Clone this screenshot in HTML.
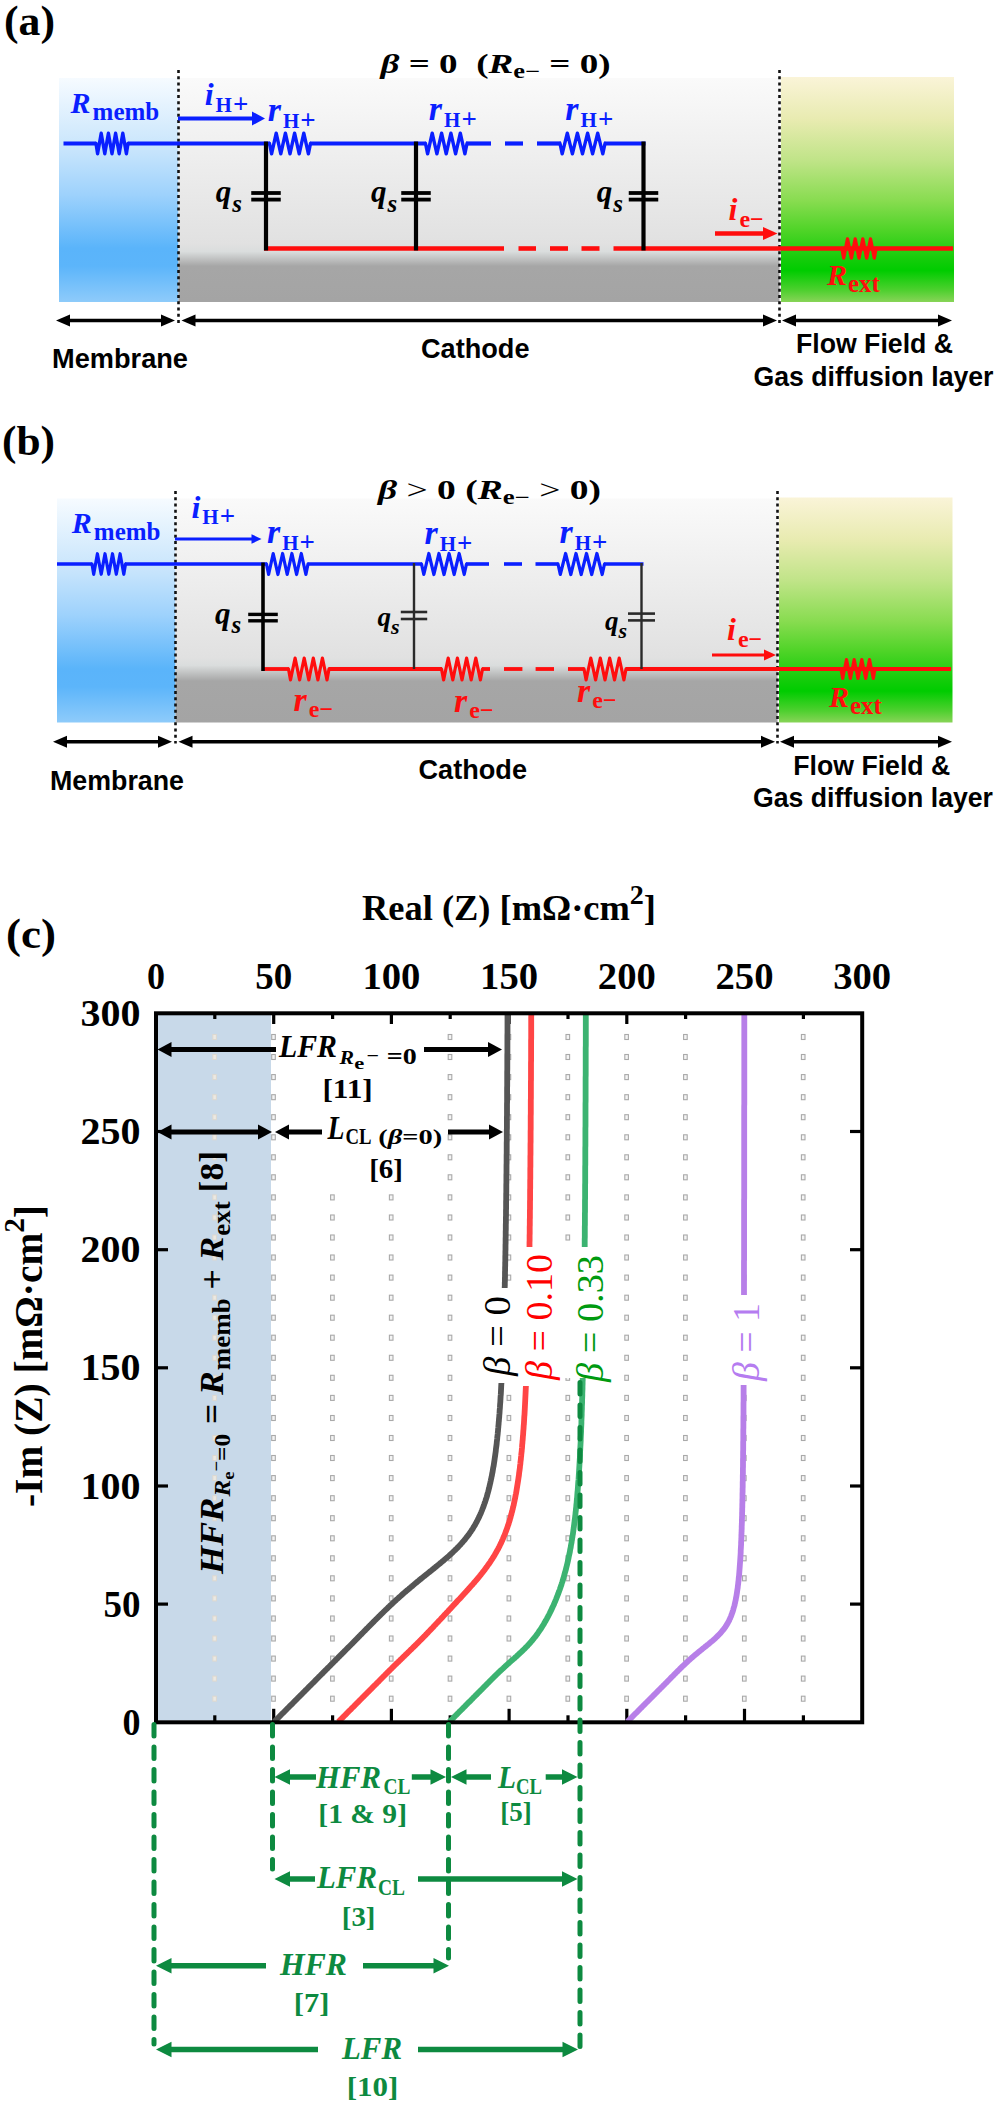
<!DOCTYPE html>
<html><head><meta charset="utf-8"><title>Figure</title><style>html,body{margin:0;padding:0;background:#fff;}svg{display:block;}</style></head><body><svg width="1000" height="2108" viewBox="0 0 1000 2108"><defs>
<linearGradient id="gMem" x1="0" y1="0" x2="0" y2="1">
<stop offset="0" stop-color="#f6fbff"/><stop offset="0.33" stop-color="#c6e4fc"/><stop offset="0.52" stop-color="#9ed2fc"/>
<stop offset="0.76" stop-color="#5ab4fa"/><stop offset="0.84" stop-color="#5cb5fa"/><stop offset="1" stop-color="#8ecbfa"/>
</linearGradient>
<linearGradient id="gCat" x1="0" y1="0" x2="0" y2="1">
<stop offset="0" stop-color="#fafafa"/><stop offset="0.74" stop-color="#e1e1e1"/>
<stop offset="0.775" stop-color="#dadddd"/><stop offset="0.84" stop-color="#a6a6a6"/><stop offset="1" stop-color="#a4a4a4"/>
</linearGradient>
<linearGradient id="gCatB" x1="0" y1="0" x2="0" y2="1">
<stop offset="0" stop-color="#fafafa"/><stop offset="0.71" stop-color="#e1e1e1"/>
<stop offset="0.745" stop-color="#dadddd"/><stop offset="0.815" stop-color="#a6a6a6"/><stop offset="1" stop-color="#a4a4a4"/>
</linearGradient>
<linearGradient id="gFF" x1="0" y1="0" x2="0" y2="1">
<stop offset="0" stop-color="#faf4d8"/><stop offset="0.19" stop-color="#e8ebb0"/>
<stop offset="0.37" stop-color="#c0e488"/><stop offset="0.55" stop-color="#88dc50"/>
<stop offset="0.68" stop-color="#50d428"/><stop offset="0.81" stop-color="#14cc0a"/>
<stop offset="0.86" stop-color="#00cc00"/><stop offset="0.95" stop-color="#50d030"/><stop offset="1" stop-color="#88d458"/>
</linearGradient>
</defs>
<text x="4" y="35" font-family="'Liberation Serif', serif" font-size="42" font-weight="bold" font-style="normal" fill="#000" text-anchor="start" textLength="51" lengthAdjust="spacingAndGlyphs">(a)</text>
<rect x="59" y="78" width="119.5" height="224" fill="url(#gMem)"/>
<rect x="178.5" y="78" width="601.0" height="224" fill="url(#gCat)"/>
<rect x="781.0" y="77" width="173.0" height="225" fill="url(#gFF)"/>
<line x1="178.5" y1="70" x2="178.5" y2="323" stroke="#111" stroke-width="2.6" stroke-dasharray="3 3.25"/>
<line x1="779.5" y1="70" x2="779.5" y2="323" stroke="#111" stroke-width="2.6" stroke-dasharray="3 3.25"/>
<text x="380.5" y="72.8" font-family="'Liberation Serif', serif" font-size="28" font-weight="bold" font-style="normal" fill="#000" text-anchor="start" textLength="230" lengthAdjust="spacingAndGlyphs" xml:space="preserve"><tspan font-style="italic">β</tspan> = 0  (<tspan font-style="italic">R</tspan><tspan dy="5" font-size="20">e−</tspan><tspan dy="-5"> = 0)</tspan></text>
<line x1="63.5" y1="143.5" x2="96" y2="143.5" stroke="#0a1fff" stroke-width="4.2" />
<path d="M96.0,143.5 L97.6,153.8 L101.2,133.2 L104.8,153.8 L108.4,133.2 L112.0,153.8 L115.6,133.2 L119.2,153.8 L122.8,133.2 L126.4,153.8 L128.0,143.5" fill="none" stroke="#0a1fff" stroke-width="3.4" stroke-linejoin="round" stroke-linecap="round"/>
<line x1="128" y1="143.5" x2="270" y2="143.5" stroke="#0a1fff" stroke-width="4.2" />
<path d="M269.5,143.5 L271.6,153.8 L276.2,133.2 L280.8,153.8 L285.4,133.2 L290.0,153.8 L294.6,133.2 L299.2,153.8 L303.8,133.2 L308.4,153.8 L310.5,143.5" fill="none" stroke="#0a1fff" stroke-width="3.4" stroke-linejoin="round" stroke-linecap="round"/>
<line x1="310" y1="143.5" x2="426" y2="143.5" stroke="#0a1fff" stroke-width="4.2" />
<path d="M425.5,143.5 L427.6,153.8 L432.2,133.2 L436.9,153.8 L441.6,133.2 L446.2,153.8 L450.9,133.2 L455.6,153.8 L460.3,133.2 L464.9,153.8 L467.0,143.5" fill="none" stroke="#0a1fff" stroke-width="3.4" stroke-linejoin="round" stroke-linecap="round"/>
<line x1="466" y1="143.5" x2="491" y2="143.5" stroke="#0a1fff" stroke-width="4.2" />
<line x1="505" y1="143.5" x2="523" y2="143.5" stroke="#0a1fff" stroke-width="4.2" />
<line x1="537" y1="143.5" x2="561" y2="143.5" stroke="#0a1fff" stroke-width="4.2" />
<path d="M560.0,143.5 L562.2,153.8 L567.3,133.2 L572.4,153.8 L577.4,133.2 L582.5,153.8 L587.6,133.2 L592.6,153.8 L597.7,133.2 L602.8,153.8 L605.0,143.5" fill="none" stroke="#0a1fff" stroke-width="3.4" stroke-linejoin="round" stroke-linecap="round"/>
<line x1="604" y1="143.5" x2="645.5" y2="143.5" stroke="#0a1fff" stroke-width="4.2" />
<line x1="264" y1="248.5" x2="504" y2="248.5" stroke="#ff0d0d" stroke-width="4.6" />
<line x1="518.5" y1="248.5" x2="536" y2="248.5" stroke="#ff0d0d" stroke-width="4.6" />
<line x1="550" y1="248.5" x2="568" y2="248.5" stroke="#ff0d0d" stroke-width="4.6" />
<line x1="581.5" y1="248.5" x2="599.5" y2="248.5" stroke="#ff0d0d" stroke-width="4.6" />
<line x1="613.5" y1="248.5" x2="953" y2="248.5" stroke="#ff0d0d" stroke-width="4.6" />
<path d="M842.0,248.5 L843.7,258.0 L847.5,239.0 L851.4,258.0 L855.2,239.0 L859.0,258.0 L862.8,239.0 L866.7,258.0 L870.5,239.0 L874.3,258.0 L876.0,248.5" fill="none" stroke="#ff0d0d" stroke-width="3.4" stroke-linejoin="round" stroke-linecap="round"/>
<line x1="266" y1="141.5" x2="266" y2="250.5" stroke="#000" stroke-width="4.2" />
<line x1="251.25" y1="193.0" x2="280.75" y2="193.0" stroke="#000" stroke-width="3.8" /><line x1="251.25" y1="199.60000000000002" x2="280.75" y2="199.60000000000002" stroke="#000" stroke-width="3.8" />
<line x1="416" y1="141.5" x2="416" y2="250.5" stroke="#000" stroke-width="4.2" />
<line x1="401.25" y1="193.0" x2="430.75" y2="193.0" stroke="#000" stroke-width="3.8" /><line x1="401.25" y1="199.60000000000002" x2="430.75" y2="199.60000000000002" stroke="#000" stroke-width="3.8" />
<line x1="643.5" y1="141.5" x2="643.5" y2="250.5" stroke="#000" stroke-width="4.2" />
<line x1="628.75" y1="193.0" x2="658.25" y2="193.0" stroke="#000" stroke-width="3.8" /><line x1="628.75" y1="199.60000000000002" x2="658.25" y2="199.60000000000002" stroke="#000" stroke-width="3.8" />
<line x1="178" y1="118.5" x2="253" y2="118.5" stroke="#0a1fff" stroke-width="4.2" /><path d="M265,118.5 L252,111.5 L252,125.5 Z" fill="#0a1fff"/>
<line x1="715" y1="233.5" x2="764.0" y2="233.5" stroke="#ff0d0d" stroke-width="4.5" /><path d="M777.5,233.5 L763.0,227.0 L763.0,240.0 Z" fill="#ff0d0d"/>
<text x="70.6" y="113.4" font-family="'Liberation Serif', serif" font-size="30" font-weight="bold" font-style="normal" fill="#0a1fff" text-anchor="start" ><tspan font-style="italic">R</tspan><tspan dx="2" dy="6.8" font-size="25" font-style="normal">memb</tspan></text>
<text x="204.7" y="105.2" font-family="'Liberation Serif', serif" font-size="32" font-weight="bold" font-style="normal" fill="#0a1fff" text-anchor="start" ><tspan font-style="italic">i</tspan><tspan dx="2" dy="6.3" font-size="21">H</tspan><tspan dx="1" dy="1" font-size="27">+</tspan></text>
<text x="267.7" y="121.3" font-family="'Liberation Serif', serif" font-size="34" font-weight="bold" font-style="normal" fill="#0a1fff" text-anchor="start" ><tspan font-style="italic">r</tspan><tspan dx="2" dy="6.3" font-size="21">H</tspan><tspan dx="1" dy="1" font-size="27">+</tspan></text>
<text x="428.8" y="120.3" font-family="'Liberation Serif', serif" font-size="34" font-weight="bold" font-style="normal" fill="#0a1fff" text-anchor="start" ><tspan font-style="italic">r</tspan><tspan dx="2" dy="6.3" font-size="21">H</tspan><tspan dx="1" dy="1" font-size="27">+</tspan></text>
<text x="565.3" y="120.3" font-family="'Liberation Serif', serif" font-size="34" font-weight="bold" font-style="normal" fill="#0a1fff" text-anchor="start" ><tspan font-style="italic">r</tspan><tspan dx="2" dy="6.3" font-size="21">H</tspan><tspan dx="1" dy="1" font-size="27">+</tspan></text>
<text x="215.8" y="202" font-family="'Liberation Serif', serif" font-size="31" font-weight="bold" font-style="normal" fill="#000" text-anchor="start" ><tspan font-style="italic">q</tspan><tspan dx="1" dy="9.6" font-size="25" font-style="italic">s</tspan></text>
<text x="371" y="202" font-family="'Liberation Serif', serif" font-size="31" font-weight="bold" font-style="normal" fill="#000" text-anchor="start" ><tspan font-style="italic">q</tspan><tspan dx="1" dy="9.6" font-size="25" font-style="italic">s</tspan></text>
<text x="596.8" y="202" font-family="'Liberation Serif', serif" font-size="31" font-weight="bold" font-style="normal" fill="#000" text-anchor="start" ><tspan font-style="italic">q</tspan><tspan dx="1" dy="9.6" font-size="25" font-style="italic">s</tspan></text>
<text x="728.5" y="220" font-family="'Liberation Serif', serif" font-size="32" font-weight="bold" font-style="normal" fill="#ff0d0d" text-anchor="start" ><tspan font-style="italic">i</tspan><tspan dx="2" dy="7" font-size="24">e</tspan><tspan font-size="24">−</tspan></text>
<text x="827" y="285" font-family="'Liberation Serif', serif" font-size="30" font-weight="bold" font-style="normal" fill="#ff0d0d" text-anchor="start" ><tspan font-style="italic">R</tspan><tspan dx="1" dy="7" font-size="25" font-style="normal">ext</tspan></text>
<line x1="69" y1="320.5" x2="162" y2="320.5" stroke="#000" stroke-width="3.4" /><path d="M56,320.5 L70,314.5 L70,326.5 Z" fill="#000"/><path d="M175,320.5 L161,314.5 L161,326.5 Z" fill="#000"/>
<line x1="194.5" y1="320.5" x2="764" y2="320.5" stroke="#000" stroke-width="3.4" /><path d="M181.5,320.5 L195.5,314.5 L195.5,326.5 Z" fill="#000"/><path d="M777,320.5 L763,314.5 L763,326.5 Z" fill="#000"/>
<line x1="795" y1="320.5" x2="939" y2="320.5" stroke="#000" stroke-width="3.4" /><path d="M782,320.5 L796,314.5 L796,326.5 Z" fill="#000"/><path d="M952,320.5 L938,314.5 L938,326.5 Z" fill="#000"/>
<text x="52" y="367.5" font-family="'Liberation Sans', sans-serif" font-size="27" font-weight="bold" font-style="normal" fill="#000" text-anchor="start" textLength="136" lengthAdjust="spacingAndGlyphs">Membrane</text>
<text x="421" y="357.5" font-family="'Liberation Sans', sans-serif" font-size="27" font-weight="bold" font-style="normal" fill="#000" text-anchor="start" textLength="108.5" lengthAdjust="spacingAndGlyphs">Cathode</text>
<text x="796" y="352.8" font-family="'Liberation Sans', sans-serif" font-size="27" font-weight="bold" font-style="normal" fill="#000" text-anchor="start" textLength="157" lengthAdjust="spacingAndGlyphs">Flow Field &amp;</text>
<text x="753.5" y="386.2" font-family="'Liberation Sans', sans-serif" font-size="27" font-weight="bold" font-style="normal" fill="#000" text-anchor="start" textLength="240" lengthAdjust="spacingAndGlyphs">Gas diffusion layer</text>
<text x="2" y="455" font-family="'Liberation Serif', serif" font-size="42" font-weight="bold" font-style="normal" fill="#000" text-anchor="start" textLength="53" lengthAdjust="spacingAndGlyphs">(b)</text>
<rect x="57" y="498.5" width="118.5" height="224.0" fill="url(#gMem)"/>
<rect x="175.5" y="498.5" width="602.0" height="224.0" fill="url(#gCatB)"/>
<rect x="779.0" y="497.5" width="173.5" height="225.0" fill="url(#gFF)"/>
<line x1="175.5" y1="491" x2="175.5" y2="743.5" stroke="#111" stroke-width="2.6" stroke-dasharray="3 3.25"/>
<line x1="777.5" y1="491" x2="777.5" y2="743.5" stroke="#111" stroke-width="2.6" stroke-dasharray="3 3.25"/>
<text x="378" y="499.3" font-family="'Liberation Serif', serif" font-size="28" font-weight="bold" font-style="normal" fill="#000" text-anchor="start" textLength="223" lengthAdjust="spacingAndGlyphs" xml:space="preserve"><tspan font-style="italic">β</tspan> <tspan font-weight="normal">&gt;</tspan> 0 (<tspan font-style="italic">R</tspan><tspan dy="5" font-size="20">e−</tspan><tspan dy="-5"> </tspan><tspan font-weight="normal">&gt;</tspan> 0)</text>
<line x1="57" y1="564" x2="92" y2="564" stroke="#0a1fff" stroke-width="3.6" />
<path d="M92.0,564.0 L93.7,574.3 L97.4,553.7 L101.2,574.3 L105.0,553.7 L108.8,574.3 L112.5,553.7 L116.3,574.3 L120.1,553.7 L123.8,574.3 L125.5,564.0" fill="none" stroke="#0a1fff" stroke-width="3.2" stroke-linejoin="round" stroke-linecap="round"/>
<line x1="125" y1="564" x2="267" y2="564" stroke="#0a1fff" stroke-width="3.6" />
<path d="M266.5,564.0 L268.6,574.5 L273.2,553.5 L277.9,574.5 L282.6,553.5 L287.2,574.5 L291.9,553.5 L296.6,574.5 L301.3,553.5 L305.9,574.5 L308.0,564.0" fill="none" stroke="#0a1fff" stroke-width="3.2" stroke-linejoin="round" stroke-linecap="round"/>
<line x1="307.5" y1="564" x2="422" y2="564" stroke="#0a1fff" stroke-width="3.6" />
<path d="M421.5,564.0 L423.8,574.5 L428.8,553.5 L433.9,574.5 L438.9,553.5 L444.0,574.5 L449.1,553.5 L454.1,574.5 L459.2,553.5 L464.2,574.5 L466.5,564.0" fill="none" stroke="#0a1fff" stroke-width="3.2" stroke-linejoin="round" stroke-linecap="round"/>
<line x1="466" y1="564" x2="489" y2="564" stroke="#0a1fff" stroke-width="3.6" />
<line x1="504" y1="564" x2="522" y2="564" stroke="#0a1fff" stroke-width="3.6" />
<line x1="535.5" y1="564" x2="558.5" y2="564" stroke="#0a1fff" stroke-width="3.6" />
<path d="M558.0,564.0 L560.3,574.5 L565.6,553.5 L570.8,574.5 L576.0,553.5 L581.2,574.5 L586.5,553.5 L591.7,574.5 L596.9,553.5 L602.2,574.5 L604.5,564.0" fill="none" stroke="#0a1fff" stroke-width="3.2" stroke-linejoin="round" stroke-linecap="round"/>
<line x1="604" y1="564" x2="643.5" y2="564" stroke="#0a1fff" stroke-width="3.6" />
<line x1="262" y1="669" x2="289" y2="669" stroke="#ff0d0d" stroke-width="3.8" />
<path d="M288.5,669.0 L290.5,680.0 L295.1,658.0 L299.6,680.0 L304.2,658.0 L308.8,680.0 L313.3,658.0 L317.9,680.0 L322.4,658.0 L327.0,680.0 L329.0,669.0" fill="none" stroke="#ff0d0d" stroke-width="3.2" stroke-linejoin="round" stroke-linecap="round"/>
<line x1="328.5" y1="669" x2="442" y2="669" stroke="#ff0d0d" stroke-width="3.8" />
<path d="M441.5,669.0 L443.6,680.0 L448.2,658.0 L452.8,680.0 L457.4,658.0 L462.0,680.0 L466.6,658.0 L471.2,680.0 L475.8,658.0 L480.4,680.0 L482.5,669.0" fill="none" stroke="#ff0d0d" stroke-width="3.2" stroke-linejoin="round" stroke-linecap="round"/>
<line x1="482" y1="669" x2="490" y2="669" stroke="#ff0d0d" stroke-width="3.8" />
<line x1="504" y1="669" x2="522.4" y2="669" stroke="#ff0d0d" stroke-width="3.8" />
<line x1="535.6" y1="669" x2="554" y2="669" stroke="#ff0d0d" stroke-width="3.8" />
<line x1="568" y1="669" x2="584.5" y2="669" stroke="#ff0d0d" stroke-width="3.8" />
<path d="M584.0,669.0 L586.1,680.0 L590.8,658.0 L595.6,680.0 L600.3,658.0 L605.0,680.0 L609.7,658.0 L614.5,680.0 L619.2,658.0 L623.9,680.0 L626.0,669.0" fill="none" stroke="#ff0d0d" stroke-width="3.2" stroke-linejoin="round" stroke-linecap="round"/>
<line x1="625.5" y1="669" x2="951" y2="669" stroke="#ff0d0d" stroke-width="3.8" />
<path d="M841.0,669.0 L842.7,678.5 L846.5,659.5 L850.4,678.5 L854.2,659.5 L858.0,678.5 L861.8,659.5 L865.7,678.5 L869.5,659.5 L873.3,678.5 L875.0,669.0" fill="none" stroke="#ff0d0d" stroke-width="3.2" stroke-linejoin="round" stroke-linecap="round"/>
<line x1="263" y1="562.5" x2="263" y2="671" stroke="#000" stroke-width="3.6" />
<line x1="248.2" y1="614.4" x2="277.8" y2="614.4" stroke="#000" stroke-width="3.4" /><line x1="248.2" y1="620.8000000000001" x2="277.8" y2="620.8000000000001" stroke="#000" stroke-width="3.4" />
<line x1="414" y1="563" x2="414" y2="669" stroke="#2a2a2a" stroke-width="2.4" />
<line x1="400.8" y1="612.0" x2="427.2" y2="612.0" stroke="#2a2a2a" stroke-width="2.6" /><line x1="400.8" y1="619.0" x2="427.2" y2="619.0" stroke="#2a2a2a" stroke-width="2.6" />
<line x1="641.5" y1="563" x2="641.5" y2="669" stroke="#2a2a2a" stroke-width="2.4" />
<line x1="628.0" y1="613.6" x2="655.0" y2="613.6" stroke="#2a2a2a" stroke-width="2.6" /><line x1="628.0" y1="620.4" x2="655.0" y2="620.4" stroke="#2a2a2a" stroke-width="2.6" />
<line x1="175" y1="539" x2="252.5" y2="539" stroke="#0a1fff" stroke-width="2.8" /><path d="M261.5,539 L251.5,534.2 L251.5,543.8 Z" fill="#0a1fff"/>
<line x1="712" y1="655" x2="765" y2="655" stroke="#ff0d0d" stroke-width="3.2" /><path d="M776,655 L764,649.5 L764,660.5 Z" fill="#ff0d0d"/>
<text x="71.8" y="533.4" font-family="'Liberation Serif', serif" font-size="30" font-weight="bold" font-style="normal" fill="#0a1fff" text-anchor="start" ><tspan font-style="italic">R</tspan><tspan dx="2" dy="7" font-size="25" font-style="normal">memb</tspan></text>
<text x="191.4" y="518" font-family="'Liberation Serif', serif" font-size="32" font-weight="bold" font-style="normal" fill="#0a1fff" text-anchor="start" ><tspan font-style="italic">i</tspan><tspan dx="2" dy="6.2" font-size="21">H</tspan><tspan dx="1" dy="1" font-size="27">+</tspan></text>
<text x="267" y="543.3" font-family="'Liberation Serif', serif" font-size="34" font-weight="bold" font-style="normal" fill="#0a1fff" text-anchor="start" ><tspan font-style="italic">r</tspan><tspan dx="2" dy="7" font-size="21">H</tspan><tspan dx="1" dy="1" font-size="27">+</tspan></text>
<text x="424.5" y="543.5" font-family="'Liberation Serif', serif" font-size="34" font-weight="bold" font-style="normal" fill="#0a1fff" text-anchor="start" ><tspan font-style="italic">r</tspan><tspan dx="2" dy="7" font-size="21">H</tspan><tspan dx="1" dy="1" font-size="27">+</tspan></text>
<text x="559.5" y="542.5" font-family="'Liberation Serif', serif" font-size="34" font-weight="bold" font-style="normal" fill="#0a1fff" text-anchor="start" ><tspan font-style="italic">r</tspan><tspan dx="2" dy="7" font-size="21">H</tspan><tspan dx="1" dy="1" font-size="27">+</tspan></text>
<text x="215" y="623.5" font-family="'Liberation Serif', serif" font-size="31" font-weight="bold" font-style="normal" fill="#000" text-anchor="start" ><tspan font-style="italic">q</tspan><tspan dx="1" dy="9" font-size="25" font-style="italic">s</tspan></text>
<text x="377.4" y="626.4" font-family="'Liberation Serif', serif" font-size="27" font-weight="bold" font-style="normal" fill="#000" text-anchor="start" ><tspan font-style="italic">q</tspan><tspan dx="0" dy="8" font-size="22" font-style="italic">s</tspan></text>
<text x="605" y="630" font-family="'Liberation Serif', serif" font-size="27" font-weight="bold" font-style="normal" fill="#000" text-anchor="start" ><tspan font-style="italic">q</tspan><tspan dx="0" dy="8" font-size="22" font-style="italic">s</tspan></text>
<text x="727" y="640" font-family="'Liberation Serif', serif" font-size="32" font-weight="bold" font-style="normal" fill="#ff0d0d" text-anchor="start" ><tspan font-style="italic">i</tspan><tspan dx="2" dy="7" font-size="24">e</tspan><tspan font-size="24">−</tspan></text>
<text x="829" y="707" font-family="'Liberation Serif', serif" font-size="30" font-weight="bold" font-style="normal" fill="#ff0d0d" text-anchor="start" ><tspan font-style="italic">R</tspan><tspan dx="1" dy="7" font-size="25" font-style="normal">ext</tspan></text>
<text x="293.6" y="711.2" font-family="'Liberation Serif', serif" font-size="34" font-weight="bold" font-style="normal" fill="#ff0d0d" text-anchor="start" ><tspan font-style="italic">r</tspan><tspan dx="2" dy="6" font-size="24">e</tspan><tspan font-size="24">−</tspan></text>
<text x="454" y="711.5" font-family="'Liberation Serif', serif" font-size="34" font-weight="bold" font-style="normal" fill="#ff0d0d" text-anchor="start" ><tspan font-style="italic">r</tspan><tspan dx="2" dy="6" font-size="24">e</tspan><tspan font-size="24">−</tspan></text>
<text x="577" y="702" font-family="'Liberation Serif', serif" font-size="34" font-weight="bold" font-style="normal" fill="#ff0d0d" text-anchor="start" ><tspan font-style="italic">r</tspan><tspan dx="2" dy="6" font-size="24">e</tspan><tspan font-size="24">−</tspan></text>
<line x1="66" y1="741.8" x2="159" y2="741.8" stroke="#000" stroke-width="3.4" /><path d="M53,741.8 L67,735.8 L67,747.8 Z" fill="#000"/><path d="M172,741.8 L158,735.8 L158,747.8 Z" fill="#000"/>
<line x1="191.5" y1="741.8" x2="762" y2="741.8" stroke="#000" stroke-width="3.4" /><path d="M178.5,741.8 L192.5,735.8 L192.5,747.8 Z" fill="#000"/><path d="M775,741.8 L761,735.8 L761,747.8 Z" fill="#000"/>
<line x1="793" y1="741.8" x2="939" y2="741.8" stroke="#000" stroke-width="3.4" /><path d="M780,741.8 L794,735.8 L794,747.8 Z" fill="#000"/><path d="M952,741.8 L938,735.8 L938,747.8 Z" fill="#000"/>
<text x="50" y="790" font-family="'Liberation Sans', sans-serif" font-size="27" font-weight="bold" font-style="normal" fill="#000" text-anchor="start" textLength="134" lengthAdjust="spacingAndGlyphs">Membrane</text>
<text x="418.5" y="779" font-family="'Liberation Sans', sans-serif" font-size="27" font-weight="bold" font-style="normal" fill="#000" text-anchor="start" textLength="108.5" lengthAdjust="spacingAndGlyphs">Cathode</text>
<text x="793.3" y="774.6" font-family="'Liberation Sans', sans-serif" font-size="27" font-weight="bold" font-style="normal" fill="#000" text-anchor="start" textLength="157" lengthAdjust="spacingAndGlyphs">Flow Field &amp;</text>
<text x="753" y="807" font-family="'Liberation Sans', sans-serif" font-size="27" font-weight="bold" font-style="normal" fill="#000" text-anchor="start" textLength="240" lengthAdjust="spacingAndGlyphs">Gas diffusion layer</text>
<text x="6" y="948" font-family="'Liberation Serif', serif" font-size="42" font-weight="bold" font-style="normal" fill="#000" text-anchor="start" textLength="50" lengthAdjust="spacingAndGlyphs">(c)</text>
<text x="362" y="920" font-family="'Liberation Serif', serif" font-size="35" font-weight="bold" font-style="normal" fill="#000" text-anchor="start" textLength="294" lengthAdjust="spacingAndGlyphs">Real (Z) [mΩ·cm<tspan dy="-16" font-size="27">2</tspan><tspan dy="16">]</tspan></text>
<text x="156.0" y="989.3" font-family="'Liberation Serif', serif" font-size="37" font-weight="bold" font-style="normal" fill="#000" text-anchor="middle" textLength="18" lengthAdjust="spacingAndGlyphs">0</text>
<text x="273.7" y="989.3" font-family="'Liberation Serif', serif" font-size="37" font-weight="bold" font-style="normal" fill="#000" text-anchor="middle" textLength="37" lengthAdjust="spacingAndGlyphs">50</text>
<text x="391.4" y="989.3" font-family="'Liberation Serif', serif" font-size="37" font-weight="bold" font-style="normal" fill="#000" text-anchor="middle" textLength="58" lengthAdjust="spacingAndGlyphs">100</text>
<text x="509.1" y="989.3" font-family="'Liberation Serif', serif" font-size="37" font-weight="bold" font-style="normal" fill="#000" text-anchor="middle" textLength="58" lengthAdjust="spacingAndGlyphs">150</text>
<text x="626.8" y="989.3" font-family="'Liberation Serif', serif" font-size="37" font-weight="bold" font-style="normal" fill="#000" text-anchor="middle" textLength="58" lengthAdjust="spacingAndGlyphs">200</text>
<text x="744.5" y="989.3" font-family="'Liberation Serif', serif" font-size="37" font-weight="bold" font-style="normal" fill="#000" text-anchor="middle" textLength="58" lengthAdjust="spacingAndGlyphs">250</text>
<text x="862.2" y="989.3" font-family="'Liberation Serif', serif" font-size="37" font-weight="bold" font-style="normal" fill="#000" text-anchor="middle" textLength="58" lengthAdjust="spacingAndGlyphs">300</text>
<text x="140.5" y="1734.8" font-family="'Liberation Serif', serif" font-size="37" font-weight="bold" font-style="normal" fill="#000" text-anchor="end" textLength="18" lengthAdjust="spacingAndGlyphs">0</text>
<text x="140.5" y="1616.6499999999999" font-family="'Liberation Serif', serif" font-size="37" font-weight="bold" font-style="normal" fill="#000" text-anchor="end" textLength="37" lengthAdjust="spacingAndGlyphs">50</text>
<text x="140.5" y="1498.5" font-family="'Liberation Serif', serif" font-size="37" font-weight="bold" font-style="normal" fill="#000" text-anchor="end" textLength="60" lengthAdjust="spacingAndGlyphs">100</text>
<text x="140.5" y="1380.35" font-family="'Liberation Serif', serif" font-size="37" font-weight="bold" font-style="normal" fill="#000" text-anchor="end" textLength="60" lengthAdjust="spacingAndGlyphs">150</text>
<text x="140.5" y="1262.1999999999998" font-family="'Liberation Serif', serif" font-size="37" font-weight="bold" font-style="normal" fill="#000" text-anchor="end" textLength="60" lengthAdjust="spacingAndGlyphs">200</text>
<text x="140.5" y="1144.05" font-family="'Liberation Serif', serif" font-size="37" font-weight="bold" font-style="normal" fill="#000" text-anchor="end" textLength="60" lengthAdjust="spacingAndGlyphs">250</text>
<text x="140.5" y="1025.9" font-family="'Liberation Serif', serif" font-size="37" font-weight="bold" font-style="normal" fill="#000" text-anchor="end" textLength="60" lengthAdjust="spacingAndGlyphs">300</text>
<text transform="translate(41.8,1507) rotate(-90)" x="0" y="0" font-family="'Liberation Serif', serif" font-size="39" font-weight="bold" fill="#000" textLength="302" lengthAdjust="spacingAndGlyphs">-Im (Z) [mΩ·cm<tspan dy="-18" font-size="29">2</tspan><tspan dy="18">]</tspan></text>
<rect x="158" y="1015" width="113" height="705.5" fill="#c8d9e9"/>
<g fill="#f4f4f4" stroke="#a9a9a9" stroke-width="1.1"><rect x="271.7" y="1034.5" width="3.6" height="5" /><rect x="271.7" y="1054.5" width="3.6" height="5" /><rect x="271.7" y="1074.6" width="3.6" height="5" /><rect x="271.7" y="1094.7" width="3.6" height="5" /><rect x="271.7" y="1114.7" width="3.6" height="5" /><rect x="271.7" y="1134.8" width="3.6" height="5" /><rect x="271.7" y="1154.8" width="3.6" height="5" /><rect x="271.7" y="1174.8" width="3.6" height="5" /><rect x="271.7" y="1194.9" width="3.6" height="5" /><rect x="271.7" y="1215.0" width="3.6" height="5" /><rect x="271.7" y="1235.0" width="3.6" height="5" /><rect x="271.7" y="1255.0" width="3.6" height="5" /><rect x="271.7" y="1275.1" width="3.6" height="5" /><rect x="271.7" y="1295.2" width="3.6" height="5" /><rect x="271.7" y="1315.2" width="3.6" height="5" /><rect x="271.7" y="1335.2" width="3.6" height="5" /><rect x="271.7" y="1355.3" width="3.6" height="5" /><rect x="271.7" y="1375.3" width="3.6" height="5" /><rect x="271.7" y="1395.4" width="3.6" height="5" /><rect x="271.7" y="1415.5" width="3.6" height="5" /><rect x="271.7" y="1435.5" width="3.6" height="5" /><rect x="271.7" y="1455.5" width="3.6" height="5" /><rect x="271.7" y="1475.6" width="3.6" height="5" /><rect x="271.7" y="1495.7" width="3.6" height="5" /><rect x="271.7" y="1515.7" width="3.6" height="5" /><rect x="271.7" y="1535.8" width="3.6" height="5" /><rect x="271.7" y="1555.8" width="3.6" height="5" /><rect x="271.7" y="1575.8" width="3.6" height="5" /><rect x="271.7" y="1595.9" width="3.6" height="5" /><rect x="271.7" y="1616.0" width="3.6" height="5" /><rect x="271.7" y="1636.0" width="3.6" height="5" /><rect x="271.7" y="1656.1" width="3.6" height="5" /><rect x="271.7" y="1676.1" width="3.6" height="5" /><rect x="271.7" y="1696.2" width="3.6" height="5" /><rect x="330.6" y="1034.5" width="3.6" height="5" /><rect x="330.6" y="1054.5" width="3.6" height="5" /><rect x="330.6" y="1074.6" width="3.6" height="5" /><rect x="330.6" y="1094.7" width="3.6" height="5" /><rect x="330.6" y="1114.7" width="3.6" height="5" /><rect x="330.6" y="1134.8" width="3.6" height="5" /><rect x="330.6" y="1154.8" width="3.6" height="5" /><rect x="330.6" y="1174.8" width="3.6" height="5" /><rect x="330.6" y="1194.9" width="3.6" height="5" /><rect x="330.6" y="1215.0" width="3.6" height="5" /><rect x="330.6" y="1235.0" width="3.6" height="5" /><rect x="330.6" y="1255.0" width="3.6" height="5" /><rect x="330.6" y="1275.1" width="3.6" height="5" /><rect x="330.6" y="1295.2" width="3.6" height="5" /><rect x="330.6" y="1315.2" width="3.6" height="5" /><rect x="330.6" y="1335.2" width="3.6" height="5" /><rect x="330.6" y="1355.3" width="3.6" height="5" /><rect x="330.6" y="1375.3" width="3.6" height="5" /><rect x="330.6" y="1395.4" width="3.6" height="5" /><rect x="330.6" y="1415.5" width="3.6" height="5" /><rect x="330.6" y="1435.5" width="3.6" height="5" /><rect x="330.6" y="1455.5" width="3.6" height="5" /><rect x="330.6" y="1475.6" width="3.6" height="5" /><rect x="330.6" y="1495.7" width="3.6" height="5" /><rect x="330.6" y="1515.7" width="3.6" height="5" /><rect x="330.6" y="1535.8" width="3.6" height="5" /><rect x="330.6" y="1555.8" width="3.6" height="5" /><rect x="330.6" y="1575.8" width="3.6" height="5" /><rect x="330.6" y="1595.9" width="3.6" height="5" /><rect x="330.6" y="1616.0" width="3.6" height="5" /><rect x="330.6" y="1636.0" width="3.6" height="5" /><rect x="330.6" y="1656.1" width="3.6" height="5" /><rect x="330.6" y="1676.1" width="3.6" height="5" /><rect x="330.6" y="1696.2" width="3.6" height="5" /><rect x="389.4" y="1034.5" width="3.6" height="5" /><rect x="389.4" y="1054.5" width="3.6" height="5" /><rect x="389.4" y="1074.6" width="3.6" height="5" /><rect x="389.4" y="1094.7" width="3.6" height="5" /><rect x="389.4" y="1114.7" width="3.6" height="5" /><rect x="389.4" y="1134.8" width="3.6" height="5" /><rect x="389.4" y="1154.8" width="3.6" height="5" /><rect x="389.4" y="1174.8" width="3.6" height="5" /><rect x="389.4" y="1194.9" width="3.6" height="5" /><rect x="389.4" y="1215.0" width="3.6" height="5" /><rect x="389.4" y="1235.0" width="3.6" height="5" /><rect x="389.4" y="1255.0" width="3.6" height="5" /><rect x="389.4" y="1275.1" width="3.6" height="5" /><rect x="389.4" y="1295.2" width="3.6" height="5" /><rect x="389.4" y="1315.2" width="3.6" height="5" /><rect x="389.4" y="1335.2" width="3.6" height="5" /><rect x="389.4" y="1355.3" width="3.6" height="5" /><rect x="389.4" y="1375.3" width="3.6" height="5" /><rect x="389.4" y="1395.4" width="3.6" height="5" /><rect x="389.4" y="1415.5" width="3.6" height="5" /><rect x="389.4" y="1435.5" width="3.6" height="5" /><rect x="389.4" y="1455.5" width="3.6" height="5" /><rect x="389.4" y="1475.6" width="3.6" height="5" /><rect x="389.4" y="1495.7" width="3.6" height="5" /><rect x="389.4" y="1515.7" width="3.6" height="5" /><rect x="389.4" y="1535.8" width="3.6" height="5" /><rect x="389.4" y="1555.8" width="3.6" height="5" /><rect x="389.4" y="1575.8" width="3.6" height="5" /><rect x="389.4" y="1595.9" width="3.6" height="5" /><rect x="389.4" y="1616.0" width="3.6" height="5" /><rect x="389.4" y="1636.0" width="3.6" height="5" /><rect x="389.4" y="1656.1" width="3.6" height="5" /><rect x="389.4" y="1676.1" width="3.6" height="5" /><rect x="389.4" y="1696.2" width="3.6" height="5" /><rect x="448.2" y="1034.5" width="3.6" height="5" /><rect x="448.2" y="1054.5" width="3.6" height="5" /><rect x="448.2" y="1074.6" width="3.6" height="5" /><rect x="448.2" y="1094.7" width="3.6" height="5" /><rect x="448.2" y="1114.7" width="3.6" height="5" /><rect x="448.2" y="1134.8" width="3.6" height="5" /><rect x="448.2" y="1154.8" width="3.6" height="5" /><rect x="448.2" y="1174.8" width="3.6" height="5" /><rect x="448.2" y="1194.9" width="3.6" height="5" /><rect x="448.2" y="1215.0" width="3.6" height="5" /><rect x="448.2" y="1235.0" width="3.6" height="5" /><rect x="448.2" y="1255.0" width="3.6" height="5" /><rect x="448.2" y="1275.1" width="3.6" height="5" /><rect x="448.2" y="1295.2" width="3.6" height="5" /><rect x="448.2" y="1315.2" width="3.6" height="5" /><rect x="448.2" y="1335.2" width="3.6" height="5" /><rect x="448.2" y="1355.3" width="3.6" height="5" /><rect x="448.2" y="1375.3" width="3.6" height="5" /><rect x="448.2" y="1395.4" width="3.6" height="5" /><rect x="448.2" y="1415.5" width="3.6" height="5" /><rect x="448.2" y="1435.5" width="3.6" height="5" /><rect x="448.2" y="1455.5" width="3.6" height="5" /><rect x="448.2" y="1475.6" width="3.6" height="5" /><rect x="448.2" y="1495.7" width="3.6" height="5" /><rect x="448.2" y="1515.7" width="3.6" height="5" /><rect x="448.2" y="1535.8" width="3.6" height="5" /><rect x="448.2" y="1555.8" width="3.6" height="5" /><rect x="448.2" y="1575.8" width="3.6" height="5" /><rect x="448.2" y="1595.9" width="3.6" height="5" /><rect x="448.2" y="1616.0" width="3.6" height="5" /><rect x="448.2" y="1636.0" width="3.6" height="5" /><rect x="448.2" y="1656.1" width="3.6" height="5" /><rect x="448.2" y="1676.1" width="3.6" height="5" /><rect x="448.2" y="1696.2" width="3.6" height="5" /><rect x="507.1" y="1034.5" width="3.6" height="5" /><rect x="507.1" y="1054.5" width="3.6" height="5" /><rect x="507.1" y="1074.6" width="3.6" height="5" /><rect x="507.1" y="1094.7" width="3.6" height="5" /><rect x="507.1" y="1114.7" width="3.6" height="5" /><rect x="507.1" y="1134.8" width="3.6" height="5" /><rect x="507.1" y="1154.8" width="3.6" height="5" /><rect x="507.1" y="1174.8" width="3.6" height="5" /><rect x="507.1" y="1194.9" width="3.6" height="5" /><rect x="507.1" y="1215.0" width="3.6" height="5" /><rect x="507.1" y="1235.0" width="3.6" height="5" /><rect x="507.1" y="1255.0" width="3.6" height="5" /><rect x="507.1" y="1275.1" width="3.6" height="5" /><rect x="507.1" y="1295.2" width="3.6" height="5" /><rect x="507.1" y="1315.2" width="3.6" height="5" /><rect x="507.1" y="1335.2" width="3.6" height="5" /><rect x="507.1" y="1355.3" width="3.6" height="5" /><rect x="507.1" y="1375.3" width="3.6" height="5" /><rect x="507.1" y="1395.4" width="3.6" height="5" /><rect x="507.1" y="1415.5" width="3.6" height="5" /><rect x="507.1" y="1435.5" width="3.6" height="5" /><rect x="507.1" y="1455.5" width="3.6" height="5" /><rect x="507.1" y="1475.6" width="3.6" height="5" /><rect x="507.1" y="1495.7" width="3.6" height="5" /><rect x="507.1" y="1515.7" width="3.6" height="5" /><rect x="507.1" y="1535.8" width="3.6" height="5" /><rect x="507.1" y="1555.8" width="3.6" height="5" /><rect x="507.1" y="1575.8" width="3.6" height="5" /><rect x="507.1" y="1595.9" width="3.6" height="5" /><rect x="507.1" y="1616.0" width="3.6" height="5" /><rect x="507.1" y="1636.0" width="3.6" height="5" /><rect x="507.1" y="1656.1" width="3.6" height="5" /><rect x="507.1" y="1676.1" width="3.6" height="5" /><rect x="507.1" y="1696.2" width="3.6" height="5" /><rect x="566.0" y="1034.5" width="3.6" height="5" /><rect x="566.0" y="1054.5" width="3.6" height="5" /><rect x="566.0" y="1074.6" width="3.6" height="5" /><rect x="566.0" y="1094.7" width="3.6" height="5" /><rect x="566.0" y="1114.7" width="3.6" height="5" /><rect x="566.0" y="1134.8" width="3.6" height="5" /><rect x="566.0" y="1154.8" width="3.6" height="5" /><rect x="566.0" y="1174.8" width="3.6" height="5" /><rect x="566.0" y="1194.9" width="3.6" height="5" /><rect x="566.0" y="1215.0" width="3.6" height="5" /><rect x="566.0" y="1235.0" width="3.6" height="5" /><rect x="566.0" y="1255.0" width="3.6" height="5" /><rect x="566.0" y="1275.1" width="3.6" height="5" /><rect x="566.0" y="1295.2" width="3.6" height="5" /><rect x="566.0" y="1315.2" width="3.6" height="5" /><rect x="566.0" y="1335.2" width="3.6" height="5" /><rect x="566.0" y="1355.3" width="3.6" height="5" /><rect x="566.0" y="1375.3" width="3.6" height="5" /><rect x="566.0" y="1395.4" width="3.6" height="5" /><rect x="566.0" y="1415.5" width="3.6" height="5" /><rect x="566.0" y="1435.5" width="3.6" height="5" /><rect x="566.0" y="1455.5" width="3.6" height="5" /><rect x="566.0" y="1475.6" width="3.6" height="5" /><rect x="566.0" y="1495.7" width="3.6" height="5" /><rect x="566.0" y="1515.7" width="3.6" height="5" /><rect x="566.0" y="1535.8" width="3.6" height="5" /><rect x="566.0" y="1555.8" width="3.6" height="5" /><rect x="566.0" y="1575.8" width="3.6" height="5" /><rect x="566.0" y="1595.9" width="3.6" height="5" /><rect x="566.0" y="1616.0" width="3.6" height="5" /><rect x="566.0" y="1636.0" width="3.6" height="5" /><rect x="566.0" y="1656.1" width="3.6" height="5" /><rect x="566.0" y="1676.1" width="3.6" height="5" /><rect x="566.0" y="1696.2" width="3.6" height="5" /><rect x="624.8" y="1034.5" width="3.6" height="5" /><rect x="624.8" y="1054.5" width="3.6" height="5" /><rect x="624.8" y="1074.6" width="3.6" height="5" /><rect x="624.8" y="1094.7" width="3.6" height="5" /><rect x="624.8" y="1114.7" width="3.6" height="5" /><rect x="624.8" y="1134.8" width="3.6" height="5" /><rect x="624.8" y="1154.8" width="3.6" height="5" /><rect x="624.8" y="1174.8" width="3.6" height="5" /><rect x="624.8" y="1194.9" width="3.6" height="5" /><rect x="624.8" y="1215.0" width="3.6" height="5" /><rect x="624.8" y="1235.0" width="3.6" height="5" /><rect x="624.8" y="1255.0" width="3.6" height="5" /><rect x="624.8" y="1275.1" width="3.6" height="5" /><rect x="624.8" y="1295.2" width="3.6" height="5" /><rect x="624.8" y="1315.2" width="3.6" height="5" /><rect x="624.8" y="1335.2" width="3.6" height="5" /><rect x="624.8" y="1355.3" width="3.6" height="5" /><rect x="624.8" y="1375.3" width="3.6" height="5" /><rect x="624.8" y="1395.4" width="3.6" height="5" /><rect x="624.8" y="1415.5" width="3.6" height="5" /><rect x="624.8" y="1435.5" width="3.6" height="5" /><rect x="624.8" y="1455.5" width="3.6" height="5" /><rect x="624.8" y="1475.6" width="3.6" height="5" /><rect x="624.8" y="1495.7" width="3.6" height="5" /><rect x="624.8" y="1515.7" width="3.6" height="5" /><rect x="624.8" y="1535.8" width="3.6" height="5" /><rect x="624.8" y="1555.8" width="3.6" height="5" /><rect x="624.8" y="1575.8" width="3.6" height="5" /><rect x="624.8" y="1595.9" width="3.6" height="5" /><rect x="624.8" y="1616.0" width="3.6" height="5" /><rect x="624.8" y="1636.0" width="3.6" height="5" /><rect x="624.8" y="1656.1" width="3.6" height="5" /><rect x="624.8" y="1676.1" width="3.6" height="5" /><rect x="624.8" y="1696.2" width="3.6" height="5" /><rect x="683.6" y="1034.5" width="3.6" height="5" /><rect x="683.6" y="1054.5" width="3.6" height="5" /><rect x="683.6" y="1074.6" width="3.6" height="5" /><rect x="683.6" y="1094.7" width="3.6" height="5" /><rect x="683.6" y="1114.7" width="3.6" height="5" /><rect x="683.6" y="1134.8" width="3.6" height="5" /><rect x="683.6" y="1154.8" width="3.6" height="5" /><rect x="683.6" y="1174.8" width="3.6" height="5" /><rect x="683.6" y="1194.9" width="3.6" height="5" /><rect x="683.6" y="1215.0" width="3.6" height="5" /><rect x="683.6" y="1235.0" width="3.6" height="5" /><rect x="683.6" y="1255.0" width="3.6" height="5" /><rect x="683.6" y="1275.1" width="3.6" height="5" /><rect x="683.6" y="1295.2" width="3.6" height="5" /><rect x="683.6" y="1315.2" width="3.6" height="5" /><rect x="683.6" y="1335.2" width="3.6" height="5" /><rect x="683.6" y="1355.3" width="3.6" height="5" /><rect x="683.6" y="1375.3" width="3.6" height="5" /><rect x="683.6" y="1395.4" width="3.6" height="5" /><rect x="683.6" y="1415.5" width="3.6" height="5" /><rect x="683.6" y="1435.5" width="3.6" height="5" /><rect x="683.6" y="1455.5" width="3.6" height="5" /><rect x="683.6" y="1475.6" width="3.6" height="5" /><rect x="683.6" y="1495.7" width="3.6" height="5" /><rect x="683.6" y="1515.7" width="3.6" height="5" /><rect x="683.6" y="1535.8" width="3.6" height="5" /><rect x="683.6" y="1555.8" width="3.6" height="5" /><rect x="683.6" y="1575.8" width="3.6" height="5" /><rect x="683.6" y="1595.9" width="3.6" height="5" /><rect x="683.6" y="1616.0" width="3.6" height="5" /><rect x="683.6" y="1636.0" width="3.6" height="5" /><rect x="683.6" y="1656.1" width="3.6" height="5" /><rect x="683.6" y="1676.1" width="3.6" height="5" /><rect x="683.6" y="1696.2" width="3.6" height="5" /><rect x="742.5" y="1034.5" width="3.6" height="5" /><rect x="742.5" y="1054.5" width="3.6" height="5" /><rect x="742.5" y="1074.6" width="3.6" height="5" /><rect x="742.5" y="1094.7" width="3.6" height="5" /><rect x="742.5" y="1114.7" width="3.6" height="5" /><rect x="742.5" y="1134.8" width="3.6" height="5" /><rect x="742.5" y="1154.8" width="3.6" height="5" /><rect x="742.5" y="1174.8" width="3.6" height="5" /><rect x="742.5" y="1194.9" width="3.6" height="5" /><rect x="742.5" y="1215.0" width="3.6" height="5" /><rect x="742.5" y="1235.0" width="3.6" height="5" /><rect x="742.5" y="1255.0" width="3.6" height="5" /><rect x="742.5" y="1275.1" width="3.6" height="5" /><rect x="742.5" y="1295.2" width="3.6" height="5" /><rect x="742.5" y="1315.2" width="3.6" height="5" /><rect x="742.5" y="1335.2" width="3.6" height="5" /><rect x="742.5" y="1355.3" width="3.6" height="5" /><rect x="742.5" y="1375.3" width="3.6" height="5" /><rect x="742.5" y="1395.4" width="3.6" height="5" /><rect x="742.5" y="1415.5" width="3.6" height="5" /><rect x="742.5" y="1435.5" width="3.6" height="5" /><rect x="742.5" y="1455.5" width="3.6" height="5" /><rect x="742.5" y="1475.6" width="3.6" height="5" /><rect x="742.5" y="1495.7" width="3.6" height="5" /><rect x="742.5" y="1515.7" width="3.6" height="5" /><rect x="742.5" y="1535.8" width="3.6" height="5" /><rect x="742.5" y="1555.8" width="3.6" height="5" /><rect x="742.5" y="1575.8" width="3.6" height="5" /><rect x="742.5" y="1595.9" width="3.6" height="5" /><rect x="742.5" y="1616.0" width="3.6" height="5" /><rect x="742.5" y="1636.0" width="3.6" height="5" /><rect x="742.5" y="1656.1" width="3.6" height="5" /><rect x="742.5" y="1676.1" width="3.6" height="5" /><rect x="742.5" y="1696.2" width="3.6" height="5" /><rect x="801.4" y="1034.5" width="3.6" height="5" /><rect x="801.4" y="1054.5" width="3.6" height="5" /><rect x="801.4" y="1074.6" width="3.6" height="5" /><rect x="801.4" y="1094.7" width="3.6" height="5" /><rect x="801.4" y="1114.7" width="3.6" height="5" /><rect x="801.4" y="1134.8" width="3.6" height="5" /><rect x="801.4" y="1154.8" width="3.6" height="5" /><rect x="801.4" y="1174.8" width="3.6" height="5" /><rect x="801.4" y="1194.9" width="3.6" height="5" /><rect x="801.4" y="1215.0" width="3.6" height="5" /><rect x="801.4" y="1235.0" width="3.6" height="5" /><rect x="801.4" y="1255.0" width="3.6" height="5" /><rect x="801.4" y="1275.1" width="3.6" height="5" /><rect x="801.4" y="1295.2" width="3.6" height="5" /><rect x="801.4" y="1315.2" width="3.6" height="5" /><rect x="801.4" y="1335.2" width="3.6" height="5" /><rect x="801.4" y="1355.3" width="3.6" height="5" /><rect x="801.4" y="1375.3" width="3.6" height="5" /><rect x="801.4" y="1395.4" width="3.6" height="5" /><rect x="801.4" y="1415.5" width="3.6" height="5" /><rect x="801.4" y="1435.5" width="3.6" height="5" /><rect x="801.4" y="1455.5" width="3.6" height="5" /><rect x="801.4" y="1475.6" width="3.6" height="5" /><rect x="801.4" y="1495.7" width="3.6" height="5" /><rect x="801.4" y="1515.7" width="3.6" height="5" /><rect x="801.4" y="1535.8" width="3.6" height="5" /><rect x="801.4" y="1555.8" width="3.6" height="5" /><rect x="801.4" y="1575.8" width="3.6" height="5" /><rect x="801.4" y="1595.9" width="3.6" height="5" /><rect x="801.4" y="1616.0" width="3.6" height="5" /><rect x="801.4" y="1636.0" width="3.6" height="5" /><rect x="801.4" y="1656.1" width="3.6" height="5" /><rect x="801.4" y="1676.1" width="3.6" height="5" /><rect x="801.4" y="1696.2" width="3.6" height="5" /></g>
<g fill="#ece9e2" stroke="#dcd8d0" stroke-width="1"><rect x="212.8" y="1034.5" width="3.6" height="5" /><rect x="212.8" y="1054.5" width="3.6" height="5" /><rect x="212.8" y="1074.6" width="3.6" height="5" /><rect x="212.8" y="1094.7" width="3.6" height="5" /><rect x="212.8" y="1114.7" width="3.6" height="5" /><rect x="212.8" y="1134.8" width="3.6" height="5" /><rect x="212.8" y="1154.8" width="3.6" height="5" /><rect x="212.8" y="1174.8" width="3.6" height="5" /><rect x="212.8" y="1194.9" width="3.6" height="5" /><rect x="212.8" y="1215.0" width="3.6" height="5" /><rect x="212.8" y="1235.0" width="3.6" height="5" /><rect x="212.8" y="1255.0" width="3.6" height="5" /><rect x="212.8" y="1275.1" width="3.6" height="5" /><rect x="212.8" y="1295.2" width="3.6" height="5" /><rect x="212.8" y="1315.2" width="3.6" height="5" /><rect x="212.8" y="1335.2" width="3.6" height="5" /><rect x="212.8" y="1355.3" width="3.6" height="5" /><rect x="212.8" y="1375.3" width="3.6" height="5" /><rect x="212.8" y="1395.4" width="3.6" height="5" /><rect x="212.8" y="1415.5" width="3.6" height="5" /><rect x="212.8" y="1435.5" width="3.6" height="5" /><rect x="212.8" y="1455.5" width="3.6" height="5" /><rect x="212.8" y="1475.6" width="3.6" height="5" /><rect x="212.8" y="1495.7" width="3.6" height="5" /><rect x="212.8" y="1515.7" width="3.6" height="5" /><rect x="212.8" y="1535.8" width="3.6" height="5" /><rect x="212.8" y="1555.8" width="3.6" height="5" /><rect x="212.8" y="1575.8" width="3.6" height="5" /><rect x="212.8" y="1595.9" width="3.6" height="5" /><rect x="212.8" y="1616.0" width="3.6" height="5" /><rect x="212.8" y="1636.0" width="3.6" height="5" /><rect x="212.8" y="1656.1" width="3.6" height="5" /><rect x="212.8" y="1676.1" width="3.6" height="5" /><rect x="212.8" y="1696.2" width="3.6" height="5" /></g>
<line x1="214.8" y1="1013" x2="214.8" y2="1019" stroke="#000" stroke-width="3.2" />
<line x1="214.8" y1="1715.3" x2="214.8" y2="1722.3" stroke="#000" stroke-width="3.2" />
<line x1="273.7" y1="1013" x2="273.7" y2="1024" stroke="#000" stroke-width="3.2" />
<line x1="273.7" y1="1708.8" x2="273.7" y2="1722.3" stroke="#000" stroke-width="3.2" />
<line x1="332.6" y1="1013" x2="332.6" y2="1019" stroke="#000" stroke-width="3.2" />
<line x1="332.6" y1="1715.3" x2="332.6" y2="1722.3" stroke="#000" stroke-width="3.2" />
<line x1="391.4" y1="1013" x2="391.4" y2="1024" stroke="#000" stroke-width="3.2" />
<line x1="391.4" y1="1708.8" x2="391.4" y2="1722.3" stroke="#000" stroke-width="3.2" />
<line x1="450.2" y1="1013" x2="450.2" y2="1019" stroke="#000" stroke-width="3.2" />
<line x1="450.2" y1="1715.3" x2="450.2" y2="1722.3" stroke="#000" stroke-width="3.2" />
<line x1="509.1" y1="1013" x2="509.1" y2="1024" stroke="#000" stroke-width="3.2" />
<line x1="509.1" y1="1708.8" x2="509.1" y2="1722.3" stroke="#000" stroke-width="3.2" />
<line x1="568.0" y1="1013" x2="568.0" y2="1019" stroke="#000" stroke-width="3.2" />
<line x1="568.0" y1="1715.3" x2="568.0" y2="1722.3" stroke="#000" stroke-width="3.2" />
<line x1="626.8" y1="1013" x2="626.8" y2="1024" stroke="#000" stroke-width="3.2" />
<line x1="626.8" y1="1708.8" x2="626.8" y2="1722.3" stroke="#000" stroke-width="3.2" />
<line x1="685.6" y1="1013" x2="685.6" y2="1019" stroke="#000" stroke-width="3.2" />
<line x1="685.6" y1="1715.3" x2="685.6" y2="1722.3" stroke="#000" stroke-width="3.2" />
<line x1="744.5" y1="1013" x2="744.5" y2="1024" stroke="#000" stroke-width="3.2" />
<line x1="744.5" y1="1708.8" x2="744.5" y2="1722.3" stroke="#000" stroke-width="3.2" />
<line x1="803.4" y1="1013" x2="803.4" y2="1019" stroke="#000" stroke-width="3.2" />
<line x1="803.4" y1="1715.3" x2="803.4" y2="1722.3" stroke="#000" stroke-width="3.2" />
<line x1="156" y1="1604.1" x2="168" y2="1604.1" stroke="#000" stroke-width="3.2" />
<line x1="850" y1="1604.1" x2="862" y2="1604.1" stroke="#000" stroke-width="3.2" />
<line x1="156" y1="1486.0" x2="168" y2="1486.0" stroke="#000" stroke-width="3.2" />
<line x1="850" y1="1486.0" x2="862" y2="1486.0" stroke="#000" stroke-width="3.2" />
<line x1="156" y1="1367.8" x2="168" y2="1367.8" stroke="#000" stroke-width="3.2" />
<line x1="850" y1="1367.8" x2="862" y2="1367.8" stroke="#000" stroke-width="3.2" />
<line x1="156" y1="1249.7" x2="168" y2="1249.7" stroke="#000" stroke-width="3.2" />
<line x1="850" y1="1249.7" x2="862" y2="1249.7" stroke="#000" stroke-width="3.2" />
<line x1="156" y1="1131.5" x2="168" y2="1131.5" stroke="#000" stroke-width="3.2" />
<line x1="850" y1="1131.5" x2="862" y2="1131.5" stroke="#000" stroke-width="3.2" />
<clipPath id="plotclip"><rect x="156" y="1013" width="706" height="709"/></clipPath>
<g clip-path="url(#plotclip)">
<path d="M274.2,1721.8 L274.8,1721.2 L275.4,1720.6 L276.0,1720.0 L276.6,1719.4 L277.2,1718.8 L277.8,1718.2 L278.4,1717.6 L279.0,1717.0 L279.6,1716.4 L280.2,1715.8 L280.8,1715.1 L281.4,1714.5 L282.0,1713.9 L282.7,1713.3 L283.3,1712.7 L283.9,1712.1 L284.5,1711.5 L285.1,1710.9 L285.7,1710.3 L286.3,1709.7 L286.9,1709.0 L287.5,1708.4 L288.2,1707.8 L288.8,1707.2 L289.4,1706.5 L290.0,1705.9 L290.6,1705.3 L291.3,1704.7 L291.9,1704.1 L292.5,1703.5 L293.1,1702.8 L293.7,1702.2 L294.3,1701.6 L294.9,1701.0 L295.5,1700.4 L296.2,1699.7 L296.8,1699.1 L297.4,1698.5 L298.0,1697.9 L298.6,1697.3 L299.3,1696.6 L299.9,1696.0 L300.5,1695.4 L301.2,1694.7 L301.8,1694.1 L302.4,1693.5 L303.0,1692.9 L303.6,1692.3 L304.3,1691.6 L304.9,1691.0 L305.5,1690.4 L306.1,1689.7 L306.8,1689.1 L307.4,1688.5 L308.1,1687.8 L308.7,1687.1 L309.3,1686.5 L310.0,1685.9 L310.6,1685.3 L311.2,1684.6 L311.9,1684.0 L312.6,1683.3 L313.2,1682.7 L313.8,1682.1 L314.4,1681.5 L315.0,1680.8 L315.7,1680.2 L316.3,1679.5 L317.0,1678.9 L317.6,1678.2 L318.3,1677.5 L318.9,1676.9 L319.5,1676.3 L320.1,1675.7 L320.8,1675.0 L321.4,1674.4 L322.1,1673.8 L322.7,1673.1 L323.4,1672.4 L324.0,1671.8 L324.7,1671.1 L325.4,1670.4 L326.0,1669.8 L326.6,1669.2 L327.2,1668.6 L327.9,1667.9 L328.5,1667.3 L329.1,1666.7 L329.8,1666.0 L330.4,1665.4 L331.1,1664.7 L331.7,1664.0 L332.4,1663.4 L333.1,1662.7 L333.8,1662.0 L334.5,1661.3 L335.2,1660.6 L335.9,1659.9 L336.5,1659.3 L337.1,1658.7 L337.7,1658.1 L338.3,1657.4 L338.9,1656.8 L339.6,1656.2 L340.2,1655.5 L340.8,1654.9 L341.5,1654.3 L342.1,1653.6 L342.8,1652.9 L343.5,1652.3 L344.1,1651.6 L344.8,1650.9 L345.5,1650.2 L346.2,1649.5 L346.9,1648.8 L347.6,1648.1 L348.3,1647.4 L349.0,1646.7 L349.7,1646.0 L350.5,1645.2 L351.2,1644.5 L352.0,1643.7 L352.6,1643.1 L353.2,1642.5 L353.8,1641.9 L354.4,1641.3 L355.0,1640.6 L355.6,1640.0 L356.3,1639.4 L356.9,1638.7 L357.5,1638.1 L358.2,1637.4 L358.8,1636.8 L359.5,1636.1 L360.1,1635.4 L360.8,1634.8 L361.5,1634.1 L362.1,1633.4 L362.8,1632.7 L363.5,1632.0 L364.2,1631.3 L364.9,1630.6 L365.6,1629.9 L366.3,1629.1 L367.0,1628.4 L367.8,1627.7 L368.5,1626.9 L369.2,1626.2 L370.0,1625.4 L370.7,1624.7 L371.5,1623.9 L372.2,1623.2 L373.0,1622.4 L373.8,1621.6 L374.6,1620.8 L375.4,1620.0 L376.0,1619.4 L376.6,1618.8 L377.2,1618.2 L377.8,1617.6 L378.4,1617.0 L379.0,1616.4 L379.7,1615.7 L380.3,1615.1 L380.9,1614.5 L381.6,1613.9 L382.2,1613.2 L382.9,1612.6 L383.5,1612.0 L384.2,1611.3 L384.8,1610.7 L385.5,1610.0 L386.2,1609.4 L386.9,1608.7 L387.6,1608.1 L388.2,1607.4 L388.9,1606.7 L389.6,1606.1 L390.3,1605.4 L391.1,1604.8 L391.8,1604.1 L392.5,1603.4 L393.2,1602.7 L393.9,1602.1 L394.7,1601.4 L395.4,1600.7 L396.2,1600.0 L396.9,1599.3 L397.7,1598.7 L398.4,1598.0 L399.2,1597.3 L400.0,1596.6 L400.8,1595.9 L401.5,1595.2 L402.3,1594.5 L403.1,1593.8 L403.9,1593.1 L404.7,1592.4 L405.5,1591.7 L406.3,1591.0 L407.1,1590.4 L407.9,1589.7 L408.8,1589.0 L409.6,1588.3 L410.4,1587.6 L411.2,1586.9 L412.1,1586.2 L412.9,1585.5 L413.8,1584.8 L414.6,1584.0 L415.5,1583.3 L416.3,1582.6 L417.2,1581.9 L418.0,1581.2 L418.9,1580.5 L419.7,1579.8 L420.6,1579.1 L421.5,1578.4 L422.3,1577.7 L423.2,1577.0 L424.1,1576.3 L425.0,1575.6 L425.8,1574.9 L426.7,1574.2 L427.6,1573.5 L428.5,1572.8 L429.3,1572.1 L430.2,1571.4 L431.1,1570.7 L432.0,1570.0 L432.8,1569.3 L433.7,1568.6 L434.6,1567.9 L435.5,1567.1 L436.4,1566.4 L437.2,1565.7 L438.1,1565.0 L439.0,1564.3 L439.8,1563.6 L440.7,1562.9 L441.6,1562.1 L442.4,1561.4 L443.3,1560.7 L444.1,1560.0 L445.0,1559.3 L445.8,1558.5 L446.7,1557.8 L447.5,1557.1 L448.4,1556.3 L449.2,1555.6 L450.0,1554.8 L450.9,1554.1 L451.7,1553.3 L452.5,1552.6 L453.3,1551.8 L454.1,1551.0 L454.9,1550.2 L455.7,1549.5 L456.5,1548.7 L457.3,1547.9 L458.1,1547.1 L458.8,1546.3 L459.6,1545.5 L460.4,1544.7 L461.1,1543.8 L461.9,1543.0 L462.6,1542.2 L463.3,1541.3 L464.1,1540.5 L464.8,1539.6 L465.5,1538.7 L466.2,1537.8 L466.9,1536.9 L467.6,1536.0 L468.3,1535.1 L469.0,1534.2 L469.6,1533.2 L470.3,1532.3 L471.0,1531.3 L471.6,1530.3 L472.3,1529.4 L472.9,1528.4 L473.5,1527.3 L474.1,1526.3 L474.8,1525.3 L475.4,1524.2 L476.0,1523.1 L476.6,1522.1 L477.1,1521.0 L477.7,1519.8 L478.3,1518.7 L478.8,1517.6 L479.4,1516.4 L479.9,1515.2 L480.5,1514.0 L481.0,1512.8 L481.5,1511.5 L482.0,1510.3 L482.5,1509.0 L483.0,1507.7 L483.4,1506.8 L483.7,1505.9 L484.0,1505.1 L484.3,1504.2 L484.6,1503.2 L485.0,1502.3 L485.3,1501.4 L485.6,1500.4 L485.9,1499.5 L486.2,1498.5 L486.5,1497.6 L486.8,1496.6 L487.1,1495.6 L487.3,1494.6 L487.6,1493.6 L487.9,1492.6 L488.2,1491.5 L488.5,1490.5 L488.7,1489.4 L489.0,1488.4 L489.3,1487.3 L489.5,1486.2 L489.8,1485.1 L490.0,1484.0 L490.3,1482.9 L490.5,1481.8 L490.8,1480.6 L491.0,1479.5 L491.3,1478.3 L491.5,1477.1 L491.8,1475.9 L492.0,1474.7 L492.2,1473.5 L492.5,1472.3 L492.7,1471.0 L492.9,1469.8 L493.1,1468.5 L493.3,1467.3 L493.6,1466.0 L493.8,1464.7 L494.0,1463.3 L494.2,1462.0 L494.4,1460.7 L494.6,1459.3 L494.8,1457.9 L495.0,1456.5 L495.2,1455.2 L495.4,1453.7 L495.6,1452.3 L495.8,1450.9 L495.9,1449.4 L496.1,1447.9 L496.3,1446.5 L496.5,1445.0 L496.7,1443.4 L496.8,1441.9 L497.0,1440.4 L497.2,1438.8 L497.3,1437.2 L497.5,1435.6 L497.7,1434.0 L497.8,1432.4 L498.0,1430.8 L498.1,1429.1 L498.3,1427.5 L498.4,1425.8 L498.6,1424.1 L498.7,1422.3 L498.9,1420.6 L499.0,1418.9 L499.2,1417.1 L499.3,1415.3 L499.5,1413.5 L499.6,1411.7 L499.7,1409.9 L499.9,1408.0 L500.0,1406.1 L500.1,1404.2 L500.3,1402.3 L500.4,1400.4 L500.5,1398.5 L500.6,1396.5 L500.8,1394.5 L500.9,1392.5 L501.0,1390.5 L501.1,1388.5 L501.2,1386.4 L501.3,1384.3 L501.5,1382.3 L501.6,1380.1 L501.7,1378.0 L501.8,1375.9 L501.9,1373.7 L502.0,1371.5 L502.1,1369.3 L502.2,1367.1 L502.3,1364.8 L502.4,1362.5 L502.5,1360.2 L502.5,1359.1 L502.6,1357.9 L502.6,1356.8 L502.7,1355.6 L502.7,1354.4 L502.8,1353.2 L502.8,1352.1 L502.9,1350.9 L502.9,1349.7 L503.0,1348.5 L503.0,1347.3 L503.1,1346.1 L503.1,1344.8 L503.1,1343.6 L503.2,1342.4 L503.2,1341.2 L503.3,1339.9 L503.3,1338.7 L503.4,1337.4 L503.4,1336.2 L503.4,1334.9 L503.5,1333.6 L503.5,1332.4 L503.6,1331.1 L503.6,1329.8 L503.6,1328.5 L503.7,1327.2 L503.7,1325.9 L503.8,1324.6 L503.8,1323.3 L503.8,1322.0 L503.9,1320.7 L503.9,1319.3 L504.0,1318.0 L504.0,1316.6 L504.0,1315.3 L504.1,1313.9 L504.1,1312.6 L504.1,1311.2 L504.2,1309.9 L504.2,1308.5 L504.3,1307.1 L504.3,1305.7 L504.3,1304.3 L504.4,1302.9 L504.4,1301.5 L504.4,1300.1 L504.5,1298.7 L504.5,1297.2 L504.5,1295.8 L504.6,1294.4 L504.6,1292.9 L504.6,1291.5 L504.7,1290.0 L504.7,1288.6 L504.7,1287.1 L504.8,1285.6 L504.8,1284.1 L504.8,1282.7 L504.9,1281.2 L504.9,1279.7 L504.9,1278.1 L505.0,1276.6 L505.0,1275.1 L505.0,1273.6 L505.0,1272.1 L505.1,1270.5 L505.1,1269.0 L505.1,1267.4 L505.2,1265.9 L505.2,1264.3 L505.2,1262.7 L505.3,1261.1 L505.3,1259.5 L505.3,1258.0 L505.3,1256.4 L505.4,1254.7 L505.4,1253.1 L505.4,1251.5 L505.5,1249.9 L505.5,1248.3 L505.5,1246.6 L505.5,1245.0 L505.6,1243.3 L505.6,1241.6 L505.6,1240.0 L505.6,1238.3 L505.7,1236.6 L505.7,1234.9 L505.7,1233.2 L505.7,1231.5 L505.8,1229.8 L505.8,1228.1 L505.8,1226.4 L505.8,1224.6 L505.9,1222.9 L505.9,1221.1 L505.9,1219.4 L505.9,1217.6 L506.0,1215.9 L506.0,1214.1 L506.0,1212.3 L506.0,1210.5 L506.1,1208.7 L506.1,1206.9 L506.1,1205.1 L506.1,1203.3 L506.1,1201.4 L506.2,1199.6 L506.2,1197.7 L506.2,1195.9 L506.2,1194.0 L506.3,1192.2 L506.3,1190.3 L506.3,1188.4 L506.3,1186.5 L506.3,1184.6 L506.4,1182.7 L506.4,1180.8 L506.4,1178.9 L506.4,1176.9 L506.4,1175.0 L506.5,1173.1 L506.5,1171.1 L506.5,1169.1 L506.5,1167.2 L506.5,1165.2 L506.6,1163.2 L506.6,1161.2 L506.6,1159.2 L506.6,1157.2 L506.6,1155.2 L506.7,1153.1 L506.7,1151.1 L506.7,1149.0 L506.7,1147.0 L506.7,1144.9 L506.7,1142.9 L506.8,1140.8 L506.8,1138.7 L506.8,1136.6 L506.8,1134.5 L506.8,1132.4 L506.8,1130.3 L506.9,1128.1 L506.9,1126.0 L506.9,1123.8 L506.9,1121.7 L506.9,1119.5 L506.9,1117.3 L507.0,1115.1 L507.0,1113.0 L507.0,1110.8 L507.0,1108.5 L507.0,1106.3 L507.0,1104.1 L507.1,1101.9 L507.1,1099.6 L507.1,1097.4 L507.1,1095.1 L507.1,1092.8 L507.1,1090.5 L507.1,1088.2 L507.2,1085.9 L507.2,1083.6 L507.2,1081.3 L507.2,1079.0 L507.2,1076.6 L507.2,1074.3 L507.2,1071.9 L507.3,1069.5 L507.3,1067.2 L507.3,1064.8 L507.3,1062.4 L507.3,1060.0 L507.3,1057.6 L507.3,1055.1 L507.4,1052.7 L507.4,1050.2 L507.4,1047.8 L507.4,1045.3 L507.4,1042.8 L507.4,1040.4 L507.4,1037.9 L507.4,1035.4 L507.5,1032.8 L507.5,1030.3 L507.5,1027.8 L507.5,1025.2 L507.5,1022.7 L507.5,1020.1 L507.5,1017.5 L507.5,1014.9 L507.6,1012.3 L507.6,1009.7 L507.6,1007.1 L507.6,1004.5 L507.6,1001.8 L507.6,1001.8" fill="none" stroke="#555555" stroke-width="5.8" stroke-linejoin="round"/>
<path d="M338.4,1721.8 L339.0,1721.2 L339.6,1720.6 L340.2,1720.0 L340.8,1719.4 L341.4,1718.8 L342.0,1718.2 L342.6,1717.6 L343.2,1717.0 L343.8,1716.4 L344.4,1715.8 L345.0,1715.2 L345.6,1714.6 L346.2,1714.0 L346.8,1713.3 L347.4,1712.7 L348.0,1712.1 L348.6,1711.5 L349.2,1710.9 L349.9,1710.3 L350.5,1709.7 L351.1,1709.1 L351.7,1708.4 L352.3,1707.8 L352.9,1707.2 L353.6,1706.6 L354.2,1706.0 L354.8,1705.4 L355.4,1704.7 L356.0,1704.1 L356.6,1703.5 L357.2,1702.9 L357.9,1702.3 L358.5,1701.6 L359.1,1701.0 L359.7,1700.4 L360.3,1699.8 L360.9,1699.2 L361.6,1698.5 L362.2,1697.9 L362.8,1697.3 L363.5,1696.6 L364.1,1696.0 L364.7,1695.4 L365.3,1694.8 L366.0,1694.1 L366.6,1693.5 L367.2,1692.9 L367.8,1692.3 L368.5,1691.6 L369.1,1691.0 L369.7,1690.4 L370.3,1689.8 L371.0,1689.1 L371.6,1688.5 L372.2,1687.8 L372.9,1687.2 L373.5,1686.5 L374.1,1685.9 L374.8,1685.3 L375.4,1684.6 L376.1,1684.0 L376.7,1683.3 L377.3,1682.7 L377.9,1682.1 L378.6,1681.5 L379.2,1680.8 L379.8,1680.2 L380.5,1679.5 L381.1,1678.9 L381.8,1678.2 L382.5,1677.5 L383.1,1676.9 L383.7,1676.3 L384.3,1675.7 L385.0,1675.0 L385.6,1674.4 L386.2,1673.8 L386.9,1673.1 L387.6,1672.4 L388.2,1671.8 L388.9,1671.1 L389.6,1670.4 L390.2,1669.8 L390.8,1669.2 L391.5,1668.6 L392.1,1667.9 L392.7,1667.3 L393.4,1666.7 L394.0,1666.0 L394.7,1665.4 L395.3,1664.7 L396.0,1664.1 L396.7,1663.4 L397.4,1662.7 L398.1,1662.1 L398.8,1661.4 L399.5,1660.7 L400.2,1660.0 L401.0,1659.3 L401.6,1658.7 L402.2,1658.1 L402.8,1657.5 L403.4,1656.9 L404.1,1656.3 L404.7,1655.6 L405.4,1655.0 L406.0,1654.4 L406.7,1653.8 L407.3,1653.1 L408.0,1652.5 L408.7,1651.8 L409.3,1651.2 L410.0,1650.5 L410.7,1649.8 L411.4,1649.2 L412.1,1648.5 L412.8,1647.8 L413.5,1647.1 L414.2,1646.4 L414.9,1645.7 L415.7,1645.0 L416.4,1644.3 L417.1,1643.6 L417.8,1642.8 L418.6,1642.1 L419.3,1641.3 L419.9,1640.7 L420.5,1640.1 L421.2,1639.5 L421.8,1638.9 L422.4,1638.3 L423.0,1637.6 L423.6,1637.0 L424.2,1636.4 L424.9,1635.7 L425.5,1635.1 L426.2,1634.4 L426.8,1633.7 L427.4,1633.1 L428.1,1632.4 L428.7,1631.7 L429.4,1631.0 L430.1,1630.3 L430.7,1629.6 L431.4,1628.9 L432.1,1628.2 L432.8,1627.5 L433.4,1626.8 L434.1,1626.0 L434.8,1625.3 L435.5,1624.6 L436.2,1623.8 L437.0,1623.0 L437.7,1622.3 L438.4,1621.5 L439.1,1620.7 L439.8,1620.0 L440.6,1619.2 L441.3,1618.4 L442.1,1617.6 L442.8,1616.8 L443.6,1615.9 L444.3,1615.1 L445.1,1614.3 L445.7,1613.7 L446.3,1613.1 L446.9,1612.4 L447.5,1611.8 L448.1,1611.2 L448.6,1610.5 L449.2,1609.9 L449.9,1609.2 L450.5,1608.6 L451.1,1607.9 L451.7,1607.3 L452.3,1606.6 L452.9,1605.9 L453.5,1605.3 L454.1,1604.6 L454.8,1603.9 L455.4,1603.3 L456.0,1602.6 L456.7,1601.9 L457.3,1601.2 L457.9,1600.5 L458.6,1599.8 L459.2,1599.2 L459.9,1598.5 L460.5,1597.8 L461.2,1597.1 L461.8,1596.4 L462.5,1595.6 L463.1,1594.9 L463.8,1594.2 L464.4,1593.5 L465.1,1592.8 L465.7,1592.1 L466.4,1591.3 L467.1,1590.6 L467.7,1589.9 L468.4,1589.1 L469.1,1588.4 L469.7,1587.7 L470.4,1586.9 L471.0,1586.2 L471.7,1585.4 L472.4,1584.7 L473.0,1583.9 L473.7,1583.1 L474.4,1582.4 L475.0,1581.6 L475.7,1580.8 L476.4,1580.0 L477.0,1579.3 L477.7,1578.5 L478.4,1577.7 L479.0,1576.9 L479.7,1576.1 L480.3,1575.3 L481.0,1574.5 L481.6,1573.6 L482.3,1572.8 L482.9,1572.0 L483.6,1571.2 L484.2,1570.3 L484.9,1569.5 L485.5,1568.6 L486.1,1567.8 L486.8,1566.9 L487.4,1566.0 L488.0,1565.1 L488.6,1564.3 L489.3,1563.4 L489.9,1562.5 L490.5,1561.6 L491.1,1560.6 L491.7,1559.7 L492.3,1558.8 L492.9,1557.8 L493.5,1556.9 L494.1,1555.9 L494.7,1555.0 L495.2,1554.0 L495.8,1553.0 L496.4,1552.0 L496.9,1551.0 L497.5,1549.9 L498.1,1548.9 L498.6,1547.9 L499.2,1546.8 L499.7,1545.7 L500.2,1544.7 L500.8,1543.6 L501.3,1542.5 L501.8,1541.3 L502.3,1540.2 L502.8,1539.1 L503.3,1537.9 L503.8,1536.7 L504.3,1535.5 L504.8,1534.3 L505.3,1533.1 L505.7,1531.9 L506.2,1530.6 L506.7,1529.3 L507.1,1528.1 L507.6,1526.8 L508.0,1525.4 L508.5,1524.1 L508.9,1522.7 L509.2,1521.8 L509.5,1520.9 L509.8,1520.0 L510.0,1519.0 L510.3,1518.1 L510.6,1517.1 L510.8,1516.2 L511.1,1515.2 L511.4,1514.2 L511.6,1513.2 L511.9,1512.2 L512.2,1511.2 L512.4,1510.2 L512.7,1509.1 L512.9,1508.1 L513.2,1507.0 L513.4,1506.0 L513.7,1504.9 L513.9,1503.8 L514.1,1502.7 L514.4,1501.6 L514.6,1500.5 L514.8,1499.4 L515.1,1498.3 L515.3,1497.1 L515.5,1496.0 L515.7,1494.8 L516.0,1493.6 L516.2,1492.5 L516.4,1491.3 L516.6,1490.0 L516.8,1488.8 L517.0,1487.6 L517.2,1486.3 L517.4,1485.1 L517.6,1483.8 L517.8,1482.5 L518.0,1481.3 L518.2,1480.0 L518.4,1478.6 L518.6,1477.3 L518.8,1476.0 L519.0,1474.6 L519.1,1473.2 L519.3,1471.9 L519.5,1470.5 L519.7,1469.1 L519.9,1467.7 L520.0,1466.2 L520.2,1464.8 L520.4,1463.3 L520.5,1461.8 L520.7,1460.4 L520.9,1458.9 L521.0,1457.3 L521.2,1455.8 L521.3,1454.3 L521.5,1452.7 L521.7,1451.1 L521.8,1449.6 L522.0,1448.0 L522.1,1446.3 L522.2,1444.7 L522.4,1443.1 L522.5,1441.4 L522.7,1439.7 L522.8,1438.0 L522.9,1436.3 L523.1,1434.6 L523.2,1432.9 L523.3,1431.1 L523.5,1429.3 L523.6,1427.6 L523.7,1425.8 L523.9,1423.9 L524.0,1422.1 L524.1,1420.3 L524.2,1418.4 L524.3,1416.5 L524.5,1414.6 L524.6,1412.7 L524.7,1410.7 L524.8,1408.8 L524.9,1406.8 L525.0,1404.8 L525.1,1402.8 L525.2,1400.8 L525.3,1398.7 L525.4,1396.7 L525.5,1394.6 L525.6,1392.5 L525.7,1390.4 L525.8,1388.2 L525.9,1386.1 L526.0,1383.9 L526.1,1381.7 L526.2,1379.5 L526.3,1377.3 L526.4,1375.0 L526.5,1372.7 L526.6,1370.4 L526.7,1368.1 L526.7,1367.0 L526.8,1365.8 L526.8,1364.6 L526.8,1363.4 L526.9,1362.3 L526.9,1361.1 L527.0,1359.9 L527.0,1358.7 L527.1,1357.5 L527.1,1356.3 L527.1,1355.0 L527.2,1353.8 L527.2,1352.6 L527.3,1351.4 L527.3,1350.1 L527.3,1348.9 L527.4,1347.6 L527.4,1346.4 L527.4,1345.1 L527.5,1343.9 L527.5,1342.6 L527.6,1341.3 L527.6,1340.0 L527.6,1338.7 L527.7,1337.5 L527.7,1336.2 L527.7,1334.9 L527.8,1333.5 L527.8,1332.2 L527.8,1330.9 L527.9,1329.6 L527.9,1328.3 L528.0,1326.9 L528.0,1325.6 L528.0,1324.2 L528.1,1322.9 L528.1,1321.5 L528.1,1320.1 L528.2,1318.8 L528.2,1317.4 L528.2,1316.0 L528.3,1314.6 L528.3,1313.2 L528.3,1311.8 L528.4,1310.4 L528.4,1309.0 L528.4,1307.6 L528.4,1306.2 L528.5,1304.7 L528.5,1303.3 L528.5,1301.9 L528.6,1300.4 L528.6,1299.0 L528.6,1297.5 L528.7,1296.0 L528.7,1294.6 L528.7,1293.1 L528.7,1291.6 L528.8,1290.1 L528.8,1288.6 L528.8,1287.1 L528.9,1285.6 L528.9,1284.1 L528.9,1282.5 L528.9,1281.0 L529.0,1279.5 L529.0,1277.9 L529.0,1276.4 L529.0,1274.8 L529.1,1273.3 L529.1,1271.7 L529.1,1270.1 L529.2,1268.5 L529.2,1266.9 L529.2,1265.3 L529.2,1263.7 L529.3,1262.1 L529.3,1260.5 L529.3,1258.9 L529.3,1257.3 L529.4,1255.6 L529.4,1254.0 L529.4,1252.3 L529.4,1250.7 L529.5,1249.0 L529.5,1247.3 L529.5,1245.7 L529.5,1244.0 L529.5,1242.3 L529.6,1240.6 L529.6,1238.9 L529.6,1237.2 L529.6,1235.5 L529.7,1233.7 L529.7,1232.0 L529.7,1230.3 L529.7,1228.5 L529.7,1226.8 L529.8,1225.0 L529.8,1223.2 L529.8,1221.4 L529.8,1219.7 L529.9,1217.9 L529.9,1216.1 L529.9,1214.3 L529.9,1212.4 L529.9,1210.6 L530.0,1208.8 L530.0,1207.0 L530.0,1205.1 L530.0,1203.3 L530.0,1201.4 L530.1,1199.5 L530.1,1197.7 L530.1,1195.8 L530.1,1193.9 L530.1,1192.0 L530.1,1190.1 L530.2,1188.2 L530.2,1186.3 L530.2,1184.3 L530.2,1182.4 L530.2,1180.4 L530.3,1178.5 L530.3,1176.5 L530.3,1174.6 L530.3,1172.6 L530.3,1170.6 L530.3,1168.6 L530.4,1166.6 L530.4,1164.6 L530.4,1162.6 L530.4,1160.6 L530.4,1158.5 L530.4,1156.5 L530.5,1154.4 L530.5,1152.4 L530.5,1150.3 L530.5,1148.2 L530.5,1146.1 L530.5,1144.1 L530.6,1142.0 L530.6,1139.8 L530.6,1137.7 L530.6,1135.6 L530.6,1133.5 L530.6,1131.3 L530.7,1129.2 L530.7,1127.0 L530.7,1124.8 L530.7,1122.7 L530.7,1120.5 L530.7,1118.3 L530.7,1116.1 L530.8,1113.9 L530.8,1111.6 L530.8,1109.4 L530.8,1107.2 L530.8,1104.9 L530.8,1102.7 L530.8,1100.4 L530.9,1098.1 L530.9,1095.8 L530.9,1093.5 L530.9,1091.2 L530.9,1088.9 L530.9,1086.6 L530.9,1084.2 L530.9,1081.9 L531.0,1079.6 L531.0,1077.2 L531.0,1074.8 L531.0,1072.4 L531.0,1070.1 L531.0,1067.7 L531.0,1065.2 L531.0,1062.8 L531.1,1060.4 L531.1,1058.0 L531.1,1055.5 L531.1,1053.1 L531.1,1050.6 L531.1,1048.1 L531.1,1045.6 L531.1,1043.1 L531.1,1040.6 L531.2,1038.1 L531.2,1035.6 L531.2,1033.0 L531.2,1030.5 L531.2,1027.9 L531.2,1025.4 L531.2,1022.8 L531.2,1020.2 L531.2,1017.6 L531.3,1015.0 L531.3,1012.4 L531.3,1009.7 L531.3,1007.1 L531.3,1004.5 L531.3,1001.8 L531.3,1001.8" fill="none" stroke="#ff4545" stroke-width="5.8" stroke-linejoin="round"/>
<path d="M449.3,1721.9 L449.9,1721.3 L450.5,1720.7 L451.1,1720.1 L451.7,1719.5 L452.4,1718.9 L453.0,1718.3 L453.6,1717.6 L454.2,1717.0 L454.8,1716.4 L455.4,1715.8 L456.0,1715.2 L456.6,1714.6 L457.2,1714.0 L457.8,1713.4 L458.4,1712.8 L459.0,1712.2 L459.6,1711.5 L460.3,1710.9 L460.9,1710.3 L461.5,1709.7 L462.1,1709.1 L462.7,1708.5 L463.3,1707.8 L463.9,1707.2 L464.6,1706.6 L465.2,1706.0 L465.8,1705.4 L466.4,1704.7 L467.0,1704.1 L467.6,1703.5 L468.2,1702.9 L468.8,1702.3 L469.5,1701.7 L470.1,1701.1 L470.7,1700.5 L471.3,1699.8 L471.9,1699.2 L472.6,1698.6 L473.2,1697.9 L473.8,1697.3 L474.4,1696.7 L475.1,1696.0 L475.7,1695.4 L476.3,1694.8 L477.0,1694.2 L477.6,1693.5 L478.2,1692.9 L478.8,1692.3 L479.5,1691.6 L480.1,1691.0 L480.7,1690.4 L481.4,1689.7 L482.0,1689.1 L482.6,1688.5 L483.3,1687.8 L483.9,1687.1 L484.5,1686.5 L485.2,1685.9 L485.8,1685.3 L486.4,1684.6 L487.1,1683.9 L487.8,1683.3 L488.4,1682.7 L489.0,1682.0 L489.6,1681.4 L490.2,1680.8 L490.9,1680.1 L491.5,1679.5 L492.2,1678.8 L492.9,1678.1 L493.5,1677.5 L494.1,1676.9 L494.7,1676.3 L495.4,1675.7 L496.0,1675.0 L496.7,1674.4 L497.3,1673.7 L498.0,1673.1 L498.7,1672.4 L499.4,1671.8 L500.1,1671.1 L500.8,1670.4 L501.4,1669.8 L502.1,1669.3 L502.7,1668.7 L503.4,1668.1 L504.0,1667.5 L504.7,1666.9 L505.3,1666.3 L506.0,1665.6 L506.7,1665.0 L507.4,1664.4 L508.1,1663.8 L508.8,1663.2 L509.5,1662.5 L510.2,1661.9 L510.9,1661.3 L511.6,1660.6 L512.4,1660.0 L513.1,1659.4 L513.8,1658.7 L514.6,1658.1 L515.3,1657.4 L516.0,1656.7 L516.8,1656.1 L517.5,1655.4 L518.3,1654.7 L519.0,1654.0 L519.8,1653.3 L520.4,1652.8 L521.0,1652.2 L521.6,1651.6 L522.3,1651.0 L522.9,1650.4 L523.5,1649.8 L524.1,1649.2 L524.8,1648.6 L525.4,1647.9 L526.0,1647.3 L526.6,1646.6 L527.3,1646.0 L527.9,1645.3 L528.5,1644.7 L529.1,1644.0 L529.7,1643.3 L530.4,1642.6 L531.0,1641.9 L531.6,1641.2 L532.2,1640.5 L532.8,1639.7 L533.4,1639.0 L534.0,1638.2 L534.7,1637.4 L535.3,1636.7 L535.9,1635.9 L536.5,1635.0 L537.1,1634.2 L537.7,1633.4 L538.3,1632.5 L538.9,1631.6 L539.5,1630.8 L540.0,1630.0 L540.5,1629.3 L541.0,1628.6 L541.5,1627.8 L541.9,1627.1 L542.4,1626.3 L542.9,1625.5 L543.4,1624.7 L543.9,1623.9 L544.3,1623.1 L544.8,1622.3 L545.3,1621.4 L545.8,1620.6 L546.3,1619.7 L546.8,1618.8 L547.2,1618.0 L547.7,1617.1 L548.2,1616.2 L548.7,1615.2 L549.2,1614.3 L549.7,1613.3 L550.1,1612.4 L550.6,1611.4 L551.1,1610.4 L551.6,1609.4 L552.0,1608.4 L552.5,1607.4 L553.0,1606.3 L553.5,1605.3 L554.0,1604.2 L554.4,1603.1 L554.9,1602.0 L555.4,1600.9 L555.7,1600.0 L556.1,1599.2 L556.4,1598.3 L556.8,1597.4 L557.1,1596.5 L557.5,1595.6 L557.8,1594.7 L558.2,1593.8 L558.5,1592.9 L558.9,1591.9 L559.2,1591.0 L559.6,1590.0 L559.9,1589.1 L560.2,1588.1 L560.6,1587.1 L560.9,1586.1 L561.3,1585.1 L561.6,1584.1 L561.9,1583.0 L562.3,1582.0 L562.6,1580.9 L562.9,1579.9 L563.2,1578.8 L563.6,1577.7 L563.9,1576.6 L564.2,1575.5 L564.5,1574.3 L564.8,1573.2 L565.1,1572.0 L565.5,1570.9 L565.8,1569.7 L566.1,1568.5 L566.4,1567.3 L566.7,1566.1 L567.0,1564.8 L567.3,1563.6 L567.6,1562.3 L567.9,1561.0 L568.2,1559.7 L568.5,1558.4 L568.7,1557.1 L569.0,1555.7 L569.3,1554.3 L569.6,1553.0 L569.9,1551.6 L570.1,1550.1 L570.4,1548.7 L570.7,1547.3 L570.9,1545.8 L571.2,1544.3 L571.5,1542.8 L571.7,1541.3 L572.0,1539.7 L572.1,1538.7 L572.3,1537.6 L572.5,1536.6 L572.6,1535.5 L572.8,1534.4 L573.0,1533.4 L573.1,1532.3 L573.3,1531.2 L573.4,1530.1 L573.6,1528.9 L573.7,1527.8 L573.9,1526.7 L574.0,1525.5 L574.2,1524.4 L574.3,1523.2 L574.5,1522.0 L574.6,1520.8 L574.8,1519.6 L574.9,1518.4 L575.1,1517.2 L575.2,1516.0 L575.4,1514.7 L575.5,1513.5 L575.6,1512.2 L575.8,1510.9 L575.9,1509.7 L576.0,1508.4 L576.2,1507.1 L576.3,1505.7 L576.4,1504.4 L576.6,1503.1 L576.7,1501.7 L576.8,1500.4 L576.9,1499.0 L577.1,1497.6 L577.2,1496.2 L577.3,1494.8 L577.4,1493.4 L577.5,1491.9 L577.7,1490.5 L577.8,1489.0 L577.9,1487.6 L578.0,1486.1 L578.1,1484.6 L578.2,1483.1 L578.3,1481.6 L578.5,1480.0 L578.6,1478.5 L578.7,1476.9 L578.8,1475.3 L578.9,1473.8 L579.0,1472.2 L579.1,1470.5 L579.2,1468.9 L579.3,1467.3 L579.4,1465.6 L579.5,1463.9 L579.6,1462.3 L579.7,1460.6 L579.8,1458.8 L579.9,1457.1 L580.0,1455.4 L580.0,1453.6 L580.1,1451.8 L580.2,1450.1 L580.3,1448.3 L580.4,1446.4 L580.5,1444.6 L580.6,1442.7 L580.7,1440.9 L580.7,1439.0 L580.8,1437.1 L580.9,1435.2 L581.0,1433.3 L581.1,1431.3 L581.1,1429.4 L581.2,1427.4 L581.3,1425.4 L581.4,1423.4 L581.4,1421.3 L581.5,1419.3 L581.6,1417.2 L581.7,1415.2 L581.7,1413.1 L581.8,1410.9 L581.9,1408.8 L581.9,1406.7 L582.0,1404.5 L582.1,1402.3 L582.1,1400.1 L582.2,1397.9 L582.3,1395.6 L582.3,1393.4 L582.4,1391.1 L582.5,1388.8 L582.5,1386.5 L582.6,1384.1 L582.6,1383.0 L582.6,1381.8 L582.7,1380.6 L582.7,1379.4 L582.7,1378.2 L582.8,1377.0 L582.8,1375.8 L582.8,1374.6 L582.8,1373.4 L582.9,1372.2 L582.9,1370.9 L582.9,1369.7 L582.9,1368.5 L583.0,1367.2 L583.0,1366.0 L583.0,1364.7 L583.1,1363.5 L583.1,1362.2 L583.1,1360.9 L583.1,1359.7 L583.2,1358.4 L583.2,1357.1 L583.2,1355.8 L583.2,1354.5 L583.3,1353.2 L583.3,1351.9 L583.3,1350.6 L583.3,1349.3 L583.4,1348.0 L583.4,1346.7 L583.4,1345.3 L583.4,1344.0 L583.5,1342.6 L583.5,1341.3 L583.5,1339.9 L583.5,1338.6 L583.6,1337.2 L583.6,1335.9 L583.6,1334.5 L583.6,1333.1 L583.6,1331.7 L583.7,1330.3 L583.7,1328.9 L583.7,1327.5 L583.7,1326.1 L583.8,1324.7 L583.8,1323.3 L583.8,1321.8 L583.8,1320.4 L583.8,1319.0 L583.9,1317.5 L583.9,1316.1 L583.9,1314.6 L583.9,1313.2 L584.0,1311.7 L584.0,1310.2 L584.0,1308.7 L584.0,1307.3 L584.0,1305.8 L584.1,1304.3 L584.1,1302.8 L584.1,1301.3 L584.1,1299.7 L584.1,1298.2 L584.1,1296.7 L584.2,1295.2 L584.2,1293.6 L584.2,1292.1 L584.2,1290.5 L584.2,1289.0 L584.3,1287.4 L584.3,1285.8 L584.3,1284.2 L584.3,1282.6 L584.3,1281.1 L584.4,1279.5 L584.4,1277.9 L584.4,1276.2 L584.4,1274.6 L584.4,1273.0 L584.4,1271.4 L584.5,1269.7 L584.5,1268.1 L584.5,1266.4 L584.5,1264.8 L584.5,1263.1 L584.5,1261.4 L584.6,1259.8 L584.6,1258.1 L584.6,1256.4 L584.6,1254.7 L584.6,1253.0 L584.6,1251.3 L584.7,1249.6 L584.7,1247.8 L584.7,1246.1 L584.7,1244.4 L584.7,1242.6 L584.7,1240.9 L584.7,1239.1 L584.8,1237.3 L584.8,1235.6 L584.8,1233.8 L584.8,1232.0 L584.8,1230.2 L584.8,1228.4 L584.8,1226.6 L584.9,1224.8 L584.9,1222.9 L584.9,1221.1 L584.9,1219.3 L584.9,1217.4 L584.9,1215.6 L584.9,1213.7 L585.0,1211.8 L585.0,1210.0 L585.0,1208.1 L585.0,1206.2 L585.0,1204.3 L585.0,1202.4 L585.0,1200.5 L585.1,1198.5 L585.1,1196.6 L585.1,1194.7 L585.1,1192.7 L585.1,1190.8 L585.1,1188.8 L585.1,1186.8 L585.1,1184.9 L585.2,1182.9 L585.2,1180.9 L585.2,1178.9 L585.2,1176.9 L585.2,1174.9 L585.2,1172.8 L585.2,1170.8 L585.2,1168.8 L585.2,1166.7 L585.3,1164.7 L585.3,1162.6 L585.3,1160.5 L585.3,1158.4 L585.3,1156.4 L585.3,1154.3 L585.3,1152.1 L585.3,1150.0 L585.3,1147.9 L585.4,1145.8 L585.4,1143.6 L585.4,1141.5 L585.4,1139.3 L585.4,1137.2 L585.4,1135.0 L585.4,1132.8 L585.4,1130.6 L585.4,1128.4 L585.5,1126.2 L585.5,1124.0 L585.5,1121.8 L585.5,1119.5 L585.5,1117.3 L585.5,1115.0 L585.5,1112.8 L585.5,1110.5 L585.5,1108.2 L585.5,1105.9 L585.5,1103.6 L585.6,1101.3 L585.6,1099.0 L585.6,1096.7 L585.6,1094.3 L585.6,1092.0 L585.6,1089.6 L585.6,1087.3 L585.6,1084.9 L585.6,1082.5 L585.6,1080.1 L585.6,1077.7 L585.7,1075.3 L585.7,1072.9 L585.7,1070.5 L585.7,1068.0 L585.7,1065.6 L585.7,1063.1 L585.7,1060.7 L585.7,1058.2 L585.7,1055.7 L585.7,1053.2 L585.7,1050.7 L585.7,1048.2 L585.8,1045.7 L585.8,1043.1 L585.8,1040.6 L585.8,1038.0 L585.8,1035.5 L585.8,1032.9 L585.8,1030.3 L585.8,1027.7 L585.8,1025.1 L585.8,1022.5 L585.8,1019.9 L585.8,1017.2 L585.8,1014.6 L585.8,1011.9 L585.9,1009.2 L585.9,1006.6 L585.9,1003.9 L585.9,1003.9" fill="none" stroke="#3cb371" stroke-width="5.8" stroke-linejoin="round"/>
<path d="M627.3,1721.8 L627.9,1721.2 L628.5,1720.6 L629.1,1720.0 L629.7,1719.4 L630.3,1718.8 L630.9,1718.2 L631.5,1717.6 L632.1,1717.0 L632.7,1716.3 L633.3,1715.7 L633.9,1715.1 L634.5,1714.5 L635.1,1713.9 L635.8,1713.3 L636.4,1712.7 L637.0,1712.1 L637.6,1711.5 L638.2,1710.9 L638.8,1710.3 L639.4,1709.6 L640.0,1709.0 L640.6,1708.4 L641.3,1707.8 L641.9,1707.1 L642.5,1706.5 L643.1,1705.9 L643.7,1705.3 L644.4,1704.7 L645.0,1704.0 L645.6,1703.4 L646.2,1702.8 L646.8,1702.2 L647.4,1701.6 L648.0,1701.0 L648.7,1700.4 L649.3,1699.7 L649.9,1699.1 L650.5,1698.5 L651.1,1697.9 L651.8,1697.2 L652.4,1696.6 L653.0,1696.0 L653.6,1695.3 L654.3,1694.7 L654.9,1694.1 L655.5,1693.5 L656.1,1692.9 L656.8,1692.2 L657.4,1691.6 L658.0,1690.9 L658.7,1690.3 L659.3,1689.7 L659.9,1689.1 L660.5,1688.4 L661.2,1687.8 L661.9,1687.1 L662.5,1686.5 L663.1,1685.9 L663.7,1685.2 L664.4,1684.6 L665.0,1683.9 L665.7,1683.3 L666.3,1682.7 L666.9,1682.1 L667.5,1681.4 L668.1,1680.8 L668.8,1680.1 L669.4,1679.5 L670.1,1678.8 L670.7,1678.1 L671.4,1677.4 L672.0,1676.8 L672.6,1676.2 L673.3,1675.6 L673.9,1674.9 L674.5,1674.3 L675.2,1673.6 L675.8,1673.0 L676.5,1672.3 L677.2,1671.6 L677.9,1670.9 L678.5,1670.3 L679.1,1669.7 L679.7,1669.1 L680.4,1668.4 L681.0,1667.8 L681.7,1667.2 L682.3,1666.5 L683.0,1665.9 L683.7,1665.2 L684.4,1664.6 L685.1,1663.9 L685.8,1663.2 L686.5,1662.6 L687.2,1661.9 L688.0,1661.2 L688.7,1660.5 L689.4,1660.0 L690.0,1659.4 L690.7,1658.8 L691.3,1658.2 L692.0,1657.7 L692.6,1657.1 L693.3,1656.5 L694.0,1655.9 L694.7,1655.3 L695.4,1654.7 L696.1,1654.2 L696.8,1653.6 L697.5,1653.0 L698.2,1652.4 L698.9,1651.8 L699.6,1651.2 L700.3,1650.6 L701.1,1650.1 L701.8,1649.5 L702.5,1648.9 L703.2,1648.3 L704.0,1647.7 L704.7,1647.1 L705.4,1646.5 L706.2,1646.0 L706.9,1645.4 L707.6,1644.8 L708.4,1644.2 L709.1,1643.6 L709.8,1643.0 L710.5,1642.4 L711.2,1641.8 L712.0,1641.2 L712.7,1640.6 L713.4,1640.0 L714.1,1639.4 L714.8,1638.7 L715.5,1638.1 L716.1,1637.5 L716.8,1636.8 L717.5,1636.2 L718.1,1635.5 L718.8,1634.9 L719.4,1634.2 L720.1,1633.5 L720.7,1632.8 L721.3,1632.1 L721.9,1631.4 L722.5,1630.7 L723.1,1630.0 L723.7,1629.2 L724.3,1628.5 L724.8,1627.7 L725.4,1626.9 L725.9,1626.1 L726.5,1625.2 L727.0,1624.4 L727.5,1623.5 L728.0,1622.6 L728.5,1621.7 L729.0,1620.8 L729.4,1619.8 L729.9,1618.8 L730.3,1617.8 L730.8,1616.8 L731.2,1615.7 L731.6,1614.7 L731.9,1613.8 L732.2,1612.9 L732.6,1611.9 L732.9,1611.0 L733.2,1610.0 L733.4,1609.1 L733.7,1608.0 L734.0,1607.0 L734.3,1606.0 L734.6,1604.9 L734.8,1603.8 L735.1,1602.7 L735.3,1601.6 L735.6,1600.4 L735.8,1599.2 L736.0,1598.0 L736.3,1596.8 L736.5,1595.5 L736.7,1594.3 L736.9,1593.0 L737.1,1591.6 L737.3,1590.3 L737.5,1588.9 L737.7,1587.8 L737.8,1586.7 L737.9,1585.6 L738.1,1584.5 L738.2,1583.4 L738.3,1582.3 L738.5,1581.1 L738.6,1579.9 L738.7,1578.7 L738.8,1577.5 L739.0,1576.3 L739.1,1575.0 L739.2,1573.8 L739.3,1572.5 L739.4,1571.2 L739.5,1569.9 L739.6,1568.5 L739.7,1567.2 L739.8,1565.8 L739.9,1564.4 L740.0,1563.0 L740.1,1561.6 L740.2,1560.1 L740.3,1558.6 L740.4,1557.1 L740.5,1555.6 L740.6,1554.1 L740.7,1552.5 L740.7,1550.9 L740.8,1549.3 L740.9,1547.7 L741.0,1546.0 L741.1,1544.3 L741.1,1542.7 L741.2,1540.9 L741.3,1539.8 L741.3,1538.6 L741.4,1537.4 L741.4,1536.2 L741.4,1535.0 L741.5,1533.8 L741.5,1532.6 L741.6,1531.4 L741.6,1530.1 L741.7,1528.9 L741.7,1527.6 L741.7,1526.3 L741.8,1525.0 L741.8,1523.7 L741.9,1522.4 L741.9,1521.1 L741.9,1519.8 L742.0,1518.4 L742.0,1517.0 L742.1,1515.7 L742.1,1514.3 L742.1,1512.9 L742.2,1511.5 L742.2,1510.1 L742.2,1508.6 L742.3,1507.2 L742.3,1505.7 L742.3,1504.3 L742.4,1502.8 L742.4,1501.3 L742.4,1499.8 L742.5,1498.3 L742.5,1496.7 L742.5,1495.2 L742.5,1493.6 L742.6,1492.0 L742.6,1490.5 L742.6,1488.9 L742.7,1487.2 L742.7,1485.6 L742.7,1484.0 L742.7,1482.3 L742.8,1480.6 L742.8,1479.0 L742.8,1477.3 L742.8,1475.6 L742.9,1473.8 L742.9,1472.1 L742.9,1470.3 L742.9,1468.6 L743.0,1466.8 L743.0,1465.0 L743.0,1463.2 L743.0,1461.3 L743.0,1459.5 L743.1,1457.6 L743.1,1455.7 L743.1,1453.8 L743.1,1451.9 L743.2,1450.0 L743.2,1448.1 L743.2,1446.1 L743.2,1444.1 L743.2,1442.2 L743.3,1440.2 L743.3,1438.1 L743.3,1436.1 L743.3,1434.0 L743.3,1432.0 L743.3,1429.9 L743.4,1427.8 L743.4,1425.6 L743.4,1423.5 L743.4,1421.4 L743.4,1419.2 L743.4,1417.0 L743.5,1414.8 L743.5,1412.5 L743.5,1410.3 L743.5,1408.0 L743.5,1405.7 L743.5,1403.4 L743.6,1401.1 L743.6,1398.8 L743.6,1396.4 L743.6,1394.0 L743.6,1392.8 L743.6,1391.6 L743.6,1390.4 L743.6,1389.2 L743.6,1388.0 L743.6,1386.8 L743.6,1385.6 L743.6,1384.3 L743.7,1383.1 L743.7,1381.8 L743.7,1380.6 L743.7,1379.3 L743.7,1378.1 L743.7,1376.8 L743.7,1375.6 L743.7,1374.3 L743.7,1373.0 L743.7,1371.7 L743.7,1370.4 L743.7,1369.2 L743.7,1367.9 L743.7,1366.6 L743.7,1365.2 L743.7,1363.9 L743.7,1362.6 L743.8,1361.3 L743.8,1360.0 L743.8,1358.6 L743.8,1357.3 L743.8,1355.9 L743.8,1354.6 L743.8,1353.2 L743.8,1351.9 L743.8,1350.5 L743.8,1349.1 L743.8,1347.8 L743.8,1346.4 L743.8,1345.0 L743.8,1343.6 L743.8,1342.2 L743.8,1340.8 L743.8,1339.4 L743.8,1338.0 L743.9,1336.5 L743.9,1335.1 L743.9,1333.7 L743.9,1332.2 L743.9,1330.8 L743.9,1329.3 L743.9,1327.9 L743.9,1326.4 L743.9,1325.0 L743.9,1323.5 L743.9,1322.0 L743.9,1320.5 L743.9,1319.0 L743.9,1317.5 L743.9,1316.0 L743.9,1314.5 L743.9,1313.0 L743.9,1311.5 L743.9,1310.0 L743.9,1308.4 L743.9,1306.9 L743.9,1305.3 L744.0,1303.8 L744.0,1302.2 L744.0,1300.7 L744.0,1299.1 L744.0,1297.5 L744.0,1295.9 L744.0,1294.3 L744.0,1292.7 L744.0,1291.1 L744.0,1289.5 L744.0,1287.9 L744.0,1286.3 L744.0,1284.7 L744.0,1283.0 L744.0,1281.4 L744.0,1279.8 L744.0,1278.1 L744.0,1276.4 L744.0,1274.8 L744.0,1273.1 L744.0,1271.4 L744.0,1269.7 L744.0,1268.0 L744.0,1266.3 L744.0,1264.6 L744.0,1262.9 L744.0,1261.2 L744.1,1259.5 L744.1,1257.7 L744.1,1256.0 L744.1,1254.3 L744.1,1252.5 L744.1,1250.7 L744.1,1249.0 L744.1,1247.2 L744.1,1245.4 L744.1,1243.6 L744.1,1241.8 L744.1,1240.0 L744.1,1238.2 L744.1,1236.4 L744.1,1234.6 L744.1,1232.7 L744.1,1230.9 L744.1,1229.1 L744.1,1227.2 L744.1,1225.3 L744.1,1223.5 L744.1,1221.6 L744.1,1219.7 L744.1,1217.8 L744.1,1215.9 L744.1,1214.0 L744.1,1212.1 L744.1,1210.2 L744.1,1208.3 L744.1,1206.3 L744.1,1204.4 L744.1,1202.4 L744.1,1200.5 L744.2,1198.5 L744.2,1196.5 L744.2,1194.6 L744.2,1192.6 L744.2,1190.6 L744.2,1188.6 L744.2,1186.6 L744.2,1184.5 L744.2,1182.5 L744.2,1180.5 L744.2,1178.4 L744.2,1176.4 L744.2,1174.3 L744.2,1172.2 L744.2,1170.2 L744.2,1168.1 L744.2,1166.0 L744.2,1163.9 L744.2,1161.8 L744.2,1159.7 L744.2,1157.5 L744.2,1155.4 L744.2,1153.3 L744.2,1151.1 L744.2,1149.0 L744.2,1146.8 L744.2,1144.6 L744.2,1142.4 L744.2,1140.2 L744.2,1138.0 L744.2,1135.8 L744.2,1133.6 L744.2,1131.4 L744.2,1129.1 L744.2,1126.9 L744.2,1124.6 L744.2,1122.4 L744.2,1120.1 L744.2,1117.8 L744.2,1115.5 L744.2,1113.2 L744.2,1110.9 L744.2,1108.6 L744.2,1106.3 L744.3,1104.0 L744.3,1101.6 L744.3,1099.3 L744.3,1096.9 L744.3,1094.5 L744.3,1092.1 L744.3,1089.8 L744.3,1087.4 L744.3,1085.0 L744.3,1082.5 L744.3,1080.1 L744.3,1077.7 L744.3,1075.2 L744.3,1072.8 L744.3,1070.3 L744.3,1067.8 L744.3,1065.3 L744.3,1062.9 L744.3,1060.4 L744.3,1057.8 L744.3,1055.3 L744.3,1052.8 L744.3,1050.2 L744.3,1047.7 L744.3,1045.1 L744.3,1042.6 L744.3,1040.0 L744.3,1037.4 L744.3,1034.8 L744.3,1032.2 L744.3,1029.5 L744.3,1026.9 L744.3,1024.3 L744.3,1021.6 L744.3,1018.9 L744.3,1016.3 L744.3,1013.6 L744.3,1010.9 L744.3,1008.2 L744.3,1005.5 L744.3,1002.7 L744.3,1002.7" fill="none" stroke="#b77fe8" stroke-width="5.8" stroke-linejoin="round"/>
</g>
<rect x="156" y="1013.3" width="706.2" height="709" fill="none" stroke="#000" stroke-width="4"/>
<line x1="154" y1="1722" x2="154" y2="2044" stroke="#0d8a40" stroke-width="5" stroke-dasharray="11.5 11" stroke-linecap="round" stroke-dashoffset="-2.5"/>
<line x1="272.5" y1="1722" x2="272.5" y2="1869" stroke="#0d8a40" stroke-width="5" stroke-dasharray="11.5 11" stroke-linecap="round" stroke-dashoffset="-2.5"/>
<line x1="448.5" y1="1722" x2="448.5" y2="1958" stroke="#0d8a40" stroke-width="5" stroke-dasharray="11.5 11" stroke-linecap="round" stroke-dashoffset="-2.5"/>
<line x1="580" y1="1380" x2="580" y2="2049" stroke="#0d8a40" stroke-width="5" stroke-dasharray="11.5 11" stroke-linecap="round" stroke-dashoffset="-2.5"/>
<rect x="480" y="1288" width="40" height="95" fill="#fff"/>
<rect x="518" y="1247" width="44" height="139" fill="#fff"/>
<rect x="562" y="1247" width="48" height="131" fill="#fff"/>
<rect x="726" y="1295" width="44" height="90" fill="#fff"/>
<text transform="translate(510.4,1376) rotate(-90)" x="0" y="0" font-family="'Liberation Serif', serif" font-size="37" font-weight="normal" fill="#000" textLength="80" lengthAdjust="spacingAndGlyphs"><tspan font-style="italic">β</tspan> = 0</text>
<text transform="translate(552,1380) rotate(-90)" x="0" y="0" font-family="'Liberation Serif', serif" font-size="37" font-weight="normal" fill="#ff0000" textLength="126" lengthAdjust="spacingAndGlyphs"><tspan font-style="italic">β</tspan> = 0.10</text>
<text transform="translate(603,1382) rotate(-90)" x="0" y="0" font-family="'Liberation Serif', serif" font-size="37" font-weight="normal" fill="#009a10" textLength="127" lengthAdjust="spacingAndGlyphs"><tspan font-style="italic">β</tspan> = 0.33</text>
<text transform="translate(758.8,1381) rotate(-90)" x="0" y="0" font-family="'Liberation Serif', serif" font-size="37" font-weight="normal" fill="#b57cf0" textLength="78" lengthAdjust="spacingAndGlyphs"><tspan font-style="italic">β</tspan> = 1</text>
<rect x="277" y="1026" width="170" height="166" fill="#fff"/>
<line x1="170.5" y1="1049.5" x2="276" y2="1049.5" stroke="#000" stroke-width="5" /><path d="M157.5,1049.5 L171.5,1042.0 L171.5,1057.0 Z" fill="#000"/>
<line x1="424" y1="1049.5" x2="489" y2="1049.5" stroke="#000" stroke-width="5" /><path d="M502,1049.5 L488,1042.0 L488,1057.0 Z" fill="#000"/>
<text x="279" y="1057.2" font-family="'Liberation Serif', serif" font-size="31.5" font-weight="bold" font-style="italic" fill="#000" text-anchor="start"  textLength="58" lengthAdjust="spacingAndGlyphs">LFR</text>
<text x="339.5" y="1064.4" font-family="'Liberation Serif', serif" font-size="19" font-weight="bold" font-style="italic" fill="#000" text-anchor="start"  textLength="14.5" lengthAdjust="spacingAndGlyphs">R</text>
<text x="354.3" y="1069.2" font-family="'Liberation Serif', serif" font-size="17" font-weight="bold" font-style="normal" fill="#000" text-anchor="start"  textLength="10" lengthAdjust="spacingAndGlyphs">e</text>
<text x="366.5" y="1062" font-family="'Liberation Serif', serif" font-size="19" font-weight="bold" font-style="normal" fill="#000" text-anchor="start"  textLength="12.5" lengthAdjust="spacingAndGlyphs">−</text>
<text x="386.8" y="1064.4" font-family="'Liberation Serif', serif" font-size="23" font-weight="bold" font-style="normal" fill="#000" text-anchor="start"  textLength="30" lengthAdjust="spacingAndGlyphs">=0</text>
<text x="322.40000000000003" y="1098.2" font-family="'Liberation Serif', serif" font-size="28" font-weight="bold" font-style="normal" fill="#000" text-anchor="start"  textLength="50.4" lengthAdjust="spacingAndGlyphs">[11]</text>
<line x1="170.5" y1="1132" x2="259" y2="1132" stroke="#000" stroke-width="5" /><path d="M157.5,1132 L171.5,1124.5 L171.5,1139.5 Z" fill="#000"/><path d="M272,1132 L258,1124.5 L258,1139.5 Z" fill="#000"/>
<line x1="288" y1="1132" x2="322" y2="1132" stroke="#000" stroke-width="5" /><path d="M275,1132 L289,1124.5 L289,1139.5 Z" fill="#000"/>
<line x1="448" y1="1132" x2="490" y2="1132" stroke="#000" stroke-width="5" /><path d="M503,1132 L489,1124.5 L489,1139.5 Z" fill="#000"/>
<text x="327.5" y="1138.7" font-family="'Liberation Serif', serif" font-size="33" font-weight="bold" font-style="italic" fill="#000" text-anchor="start"  textLength="17" lengthAdjust="spacingAndGlyphs">L</text>
<text x="345.5" y="1144.3" font-family="'Liberation Serif', serif" font-size="23" font-weight="bold" font-style="normal" fill="#000" text-anchor="start"  textLength="26" lengthAdjust="spacingAndGlyphs">CL</text>
<text x="378.3" y="1144.3" font-family="'Liberation Serif', serif" font-size="22" font-weight="bold" font-style="normal" fill="#000" text-anchor="start"  textLength="64" lengthAdjust="spacingAndGlyphs">(<tspan font-style="italic">β</tspan>=0)</text>
<text x="369.2" y="1178.2" font-family="'Liberation Serif', serif" font-size="28" font-weight="bold" font-style="normal" fill="#000" text-anchor="start"  textLength="33.8" lengthAdjust="spacingAndGlyphs">[6]</text>
<text transform="translate(222.8,1574) rotate(-90)" x="0" y="0" font-family="'Liberation Serif', serif" font-size="33" font-weight="bold" fill="#000" xml:space="preserve" textLength="140" lengthAdjust="spacingAndGlyphs"><tspan font-style="italic">HFR</tspan><tspan dx="1" dy="7" font-size="23" font-style="italic">R</tspan><tspan dy="4" font-size="17">e</tspan><tspan dy="-12" font-size="17">−</tspan><tspan dy="8" font-size="23">=0</tspan></text>
<text transform="translate(222.8,1424) rotate(-90)" x="0" y="0" font-family="'Liberation Serif', serif" font-size="33" font-weight="bold" fill="#000" xml:space="preserve" textLength="273" lengthAdjust="spacingAndGlyphs">= <tspan font-style="italic">R</tspan><tspan dx="1" dy="7" font-size="25">memb</tspan><tspan dy="-7"> + </tspan><tspan font-style="italic">R</tspan><tspan dx="1" dy="7" font-size="25">ext</tspan><tspan dy="-7"> [8]</tspan></text>
<line x1="289.0" y1="1777" x2="316" y2="1777" stroke="#0d8a40" stroke-width="5.5" /><path d="M274.5,1777 L290.0,1769.25 L290.0,1784.75 Z" fill="#0d8a40"/>
<line x1="411.8" y1="1777" x2="431.5" y2="1777" stroke="#0d8a40" stroke-width="5.5" /><path d="M446,1777 L430.5,1769.25 L430.5,1784.75 Z" fill="#0d8a40"/>
<line x1="465.5" y1="1777" x2="491" y2="1777" stroke="#0d8a40" stroke-width="5.5" /><path d="M451,1777 L466.5,1769.25 L466.5,1784.75 Z" fill="#0d8a40"/>
<line x1="545.7" y1="1777" x2="563.0" y2="1777" stroke="#0d8a40" stroke-width="5.5" /><path d="M577.5,1777 L562.0,1769.25 L562.0,1784.75 Z" fill="#0d8a40"/>
<text x="316" y="1787.5" font-family="'Liberation Serif', serif" font-size="31.5" font-weight="bold" font-style="italic" fill="#0d8a40" text-anchor="start"  textLength="65" lengthAdjust="spacingAndGlyphs">HFR</text>
<text x="383.5" y="1794" font-family="'Liberation Serif', serif" font-size="23" font-weight="bold" font-style="normal" fill="#0d8a40" text-anchor="start"  textLength="27" lengthAdjust="spacingAndGlyphs">CL</text>
<text x="318.3" y="1823.2" font-family="'Liberation Serif', serif" font-size="28" font-weight="bold" font-style="normal" fill="#0d8a40" text-anchor="start"  textLength="88.7" lengthAdjust="spacingAndGlyphs">[1 &amp; 9]</text>
<text x="498" y="1787.5" font-family="'Liberation Serif', serif" font-size="31.5" font-weight="bold" font-style="italic" fill="#0d8a40" text-anchor="start"  textLength="18" lengthAdjust="spacingAndGlyphs">L</text>
<text x="516" y="1794" font-family="'Liberation Serif', serif" font-size="23" font-weight="bold" font-style="normal" fill="#0d8a40" text-anchor="start"  textLength="26" lengthAdjust="spacingAndGlyphs">CL</text>
<text x="500.3" y="1820.6000000000001" font-family="'Liberation Serif', serif" font-size="28" font-weight="bold" font-style="normal" fill="#0d8a40" text-anchor="start"  textLength="31.5" lengthAdjust="spacingAndGlyphs">[5]</text>
<line x1="289.0" y1="1879" x2="315" y2="1879" stroke="#0d8a40" stroke-width="5.5" /><path d="M274.5,1879 L290.0,1871.25 L290.0,1886.75 Z" fill="#0d8a40"/>
<line x1="418" y1="1879" x2="563.0" y2="1879" stroke="#0d8a40" stroke-width="5.5" /><path d="M577.5,1879 L562.0,1871.25 L562.0,1886.75 Z" fill="#0d8a40"/>
<text x="317" y="1888" font-family="'Liberation Serif', serif" font-size="31.5" font-weight="bold" font-style="italic" fill="#0d8a40" text-anchor="start"  textLength="60" lengthAdjust="spacingAndGlyphs">LFR</text>
<text x="378" y="1895" font-family="'Liberation Serif', serif" font-size="23" font-weight="bold" font-style="normal" fill="#0d8a40" text-anchor="start"  textLength="27" lengthAdjust="spacingAndGlyphs">CL</text>
<text x="341.8" y="1926.4" font-family="'Liberation Serif', serif" font-size="28" font-weight="bold" font-style="normal" fill="#0d8a40" text-anchor="start"  textLength="33.6" lengthAdjust="spacingAndGlyphs">[3]</text>
<line x1="170.5" y1="1965.8" x2="266" y2="1965.8" stroke="#0d8a40" stroke-width="5.5" /><path d="M156,1965.8 L171.5,1958.05 L171.5,1973.55 Z" fill="#0d8a40"/>
<line x1="363" y1="1965.8" x2="434.5" y2="1965.8" stroke="#0d8a40" stroke-width="5.5" /><path d="M449,1965.8 L433.5,1958.05 L433.5,1973.55 Z" fill="#0d8a40"/>
<text x="280" y="1975" font-family="'Liberation Serif', serif" font-size="31.5" font-weight="bold" font-style="italic" fill="#0d8a40" text-anchor="start"  textLength="67" lengthAdjust="spacingAndGlyphs">HFR</text>
<text x="293.8" y="2012.4" font-family="'Liberation Serif', serif" font-size="28" font-weight="bold" font-style="normal" fill="#0d8a40" text-anchor="start"  textLength="35.6" lengthAdjust="spacingAndGlyphs">[7]</text>
<line x1="170.5" y1="2049.5" x2="318" y2="2049.5" stroke="#0d8a40" stroke-width="5.5" /><path d="M156,2049.5 L171.5,2041.75 L171.5,2057.25 Z" fill="#0d8a40"/>
<line x1="418" y1="2049.5" x2="563.5" y2="2049.5" stroke="#0d8a40" stroke-width="5.5" /><path d="M578,2049.5 L562.5,2041.75 L562.5,2057.25 Z" fill="#0d8a40"/>
<text x="342" y="2059" font-family="'Liberation Serif', serif" font-size="31.5" font-weight="bold" font-style="italic" fill="#0d8a40" text-anchor="start"  textLength="60" lengthAdjust="spacingAndGlyphs">LFR</text>
<text x="346.8" y="2096.4" font-family="'Liberation Serif', serif" font-size="28" font-weight="bold" font-style="normal" fill="#0d8a40" text-anchor="start"  textLength="51.6" lengthAdjust="spacingAndGlyphs">[10]</text>
</svg></body></html>
